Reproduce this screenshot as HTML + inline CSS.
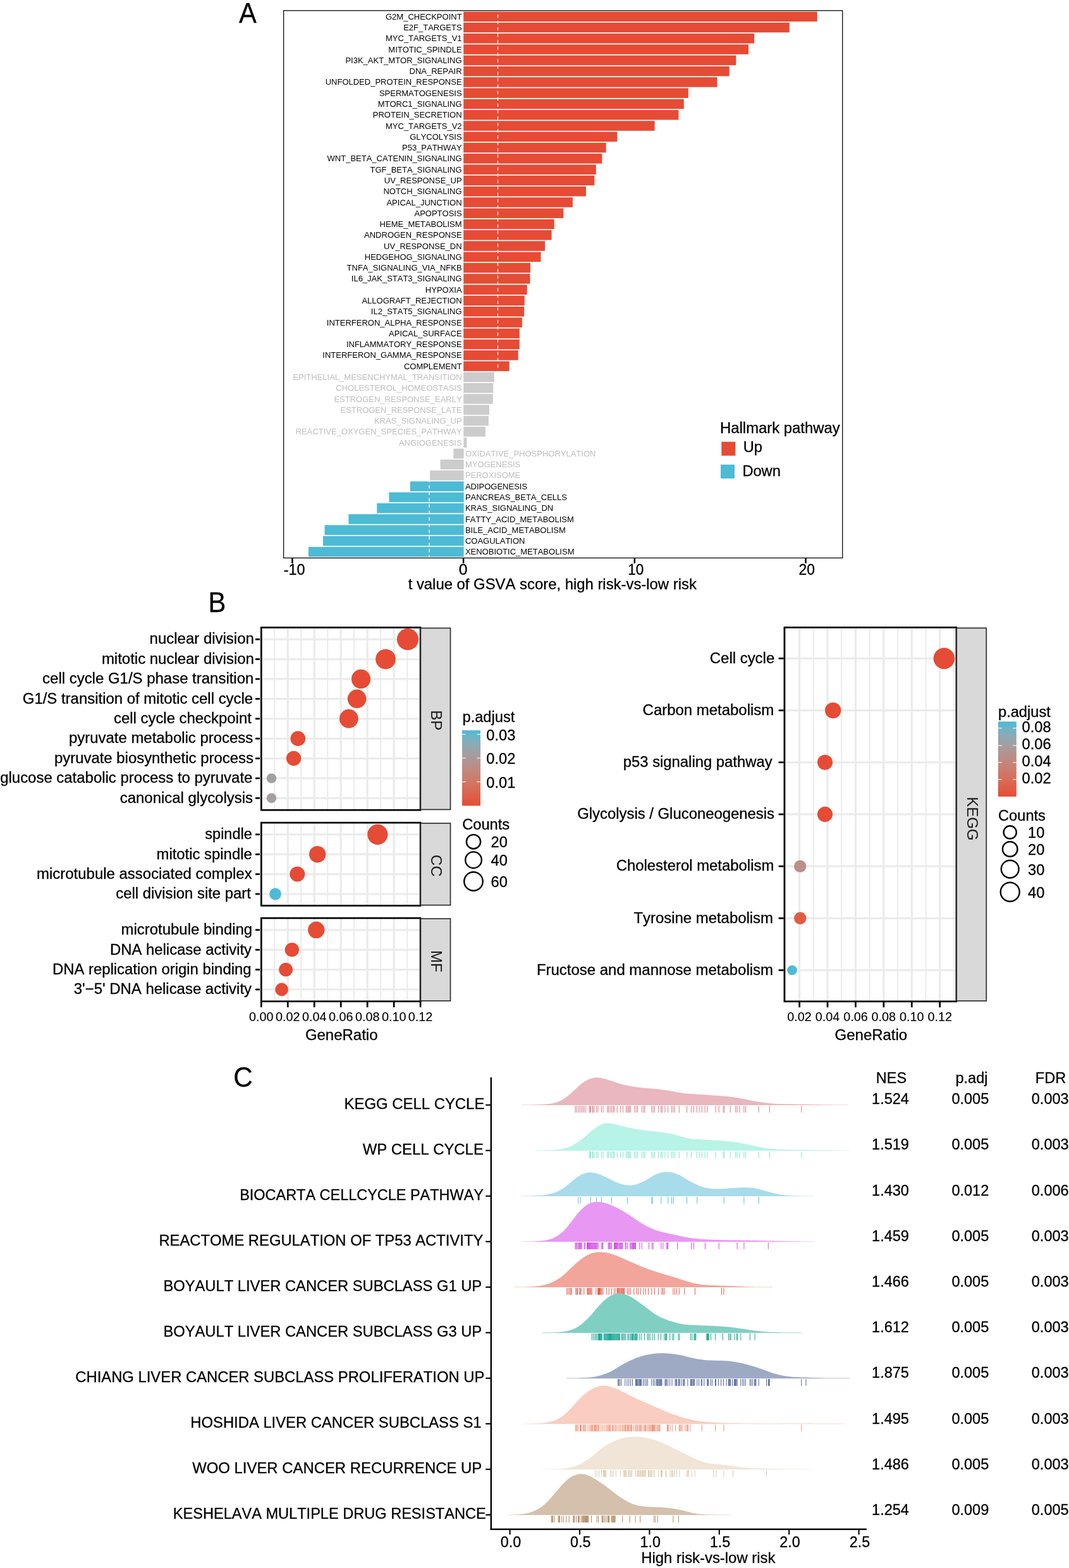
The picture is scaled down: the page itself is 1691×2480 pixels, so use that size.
<!DOCTYPE html>
<html lang="en"><head><meta charset="utf-8"><title>Figure: GSVA, GO/KEGG enrichment and GSEA ridge plot</title>
<style>
html,body{margin:0;padding:0;background:#fff}
svg{display:block;font-family:"Liberation Sans",Arial,Helvetica,sans-serif;font-kerning:none}
text{stroke:#000;stroke-width:0.3;paint-order:stroke}
text[fill],.s text{stroke:none}
.t{stroke-width:0.12px}
</style></head><body>
<svg width="1691" height="2480" viewBox="0 0 1691 2480">
<rect width="1691" height="2480" fill="#fff"/>
<text x="377.92" y="36.3" font-size="44.3" textLength="27.86" lengthAdjust="spacingAndGlyphs">A</text>
<text x="329.58" y="968.4" font-size="44.6" textLength="27.82" lengthAdjust="spacingAndGlyphs">B</text>
<text x="369.35" y="1718.6" font-size="45" textLength="30.56" lengthAdjust="spacingAndGlyphs">C</text>
<g id="panelA">
<g>
<rect x="733.2" y="18.45" width="559.5" height="15.6" fill="#E64B35"/>
<rect x="733.2" y="35.73" width="515.6" height="15.6" fill="#E64B35"/>
<rect x="733.2" y="53.01" width="459.9" height="15.6" fill="#E64B35"/>
<rect x="733.2" y="70.28" width="450.8" height="15.6" fill="#E64B35"/>
<rect x="733.2" y="87.56" width="431.1" height="15.6" fill="#E64B35"/>
<rect x="733.2" y="104.84" width="420.5" height="15.6" fill="#E64B35"/>
<rect x="733.2" y="122.12" width="401.3" height="15.6" fill="#E64B35"/>
<rect x="733.2" y="139.4" width="355.6" height="15.6" fill="#E64B35"/>
<rect x="733.2" y="156.67" width="348.6" height="15.6" fill="#E64B35"/>
<rect x="733.2" y="173.95" width="340.2" height="15.6" fill="#E64B35"/>
<rect x="733.2" y="191.23" width="302.4" height="15.6" fill="#E64B35"/>
<rect x="733.2" y="208.51" width="243.1" height="15.6" fill="#E64B35"/>
<rect x="733.2" y="225.79" width="225.5" height="15.6" fill="#E64B35"/>
<rect x="733.2" y="243.06" width="219.2" height="15.6" fill="#E64B35"/>
<rect x="733.2" y="260.34" width="209.6" height="15.6" fill="#E64B35"/>
<rect x="733.2" y="277.62" width="207.1" height="15.6" fill="#E64B35"/>
<rect x="733.2" y="294.9" width="193.7" height="15.6" fill="#E64B35"/>
<rect x="733.2" y="312.18" width="172.7" height="15.6" fill="#E64B35"/>
<rect x="733.2" y="329.45" width="158.1" height="15.6" fill="#E64B35"/>
<rect x="733.2" y="346.73" width="143.5" height="15.6" fill="#E64B35"/>
<rect x="733.2" y="364.01" width="139.4" height="15.6" fill="#E64B35"/>
<rect x="733.2" y="381.29" width="128.8" height="15.6" fill="#E64B35"/>
<rect x="733.2" y="398.57" width="122.3" height="15.6" fill="#E64B35"/>
<rect x="733.2" y="415.84" width="105.7" height="15.6" fill="#E64B35"/>
<rect x="733.2" y="433.12" width="105.2" height="15.6" fill="#E64B35"/>
<rect x="733.2" y="450.4" width="100.5" height="15.6" fill="#E64B35"/>
<rect x="733.2" y="467.68" width="96.5" height="15.6" fill="#E64B35"/>
<rect x="733.2" y="484.96" width="95.9" height="15.6" fill="#E64B35"/>
<rect x="733.2" y="502.23" width="92.7" height="15.6" fill="#E64B35"/>
<rect x="733.2" y="519.51" width="88.6" height="15.6" fill="#E64B35"/>
<rect x="733.2" y="536.79" width="88.6" height="15.6" fill="#E64B35"/>
<rect x="733.2" y="554.07" width="86.4" height="15.6" fill="#E64B35"/>
<rect x="733.2" y="571.35" width="72.5" height="15.6" fill="#E64B35"/>
<rect x="733.2" y="588.62" width="48.5" height="15.6" fill="#CCCCCC"/>
<rect x="733.2" y="605.9" width="47" height="15.6" fill="#CCCCCC"/>
<rect x="733.2" y="623.18" width="46.5" height="15.6" fill="#CCCCCC"/>
<rect x="733.2" y="640.46" width="40.7" height="15.6" fill="#CCCCCC"/>
<rect x="733.2" y="657.74" width="39.7" height="15.6" fill="#CCCCCC"/>
<rect x="733.2" y="675.01" width="34.6" height="15.6" fill="#CCCCCC"/>
<rect x="733.2" y="692.29" width="5.2" height="15.6" fill="#CCCCCC"/>
<rect x="717.3" y="709.57" width="16.3" height="15.6" fill="#CCCCCC"/>
<rect x="696.5" y="726.85" width="37.1" height="15.6" fill="#CCCCCC"/>
<rect x="680.1" y="744.13" width="53.5" height="15.6" fill="#CCCCCC"/>
<rect x="648.8" y="761.4" width="84.8" height="15.6" fill="#4DBBD5"/>
<rect x="615.4" y="778.68" width="118.2" height="15.6" fill="#4DBBD5"/>
<rect x="596.2" y="795.96" width="137.4" height="15.6" fill="#4DBBD5"/>
<rect x="551.4" y="813.24" width="182.2" height="15.6" fill="#4DBBD5"/>
<rect x="513.5" y="830.52" width="220.1" height="15.6" fill="#4DBBD5"/>
<rect x="511" y="847.79" width="222.6" height="15.6" fill="#4DBBD5"/>
<rect x="488" y="865.07" width="245.6" height="15.6" fill="#4DBBD5"/>
</g>
<line x1="787.45" y1="22.9" x2="787.45" y2="882.5" stroke="#fff" stroke-width="1.3" stroke-dasharray="5.3 4.763"/>
<line x1="679" y1="22.9" x2="679" y2="882.5" stroke="#fff" stroke-width="1.3" stroke-dasharray="5.3 4.763"/>
<g font-size="13.1" class="s">
<text x="730.6" y="30.8" text-anchor="end" textLength="120.59" lengthAdjust="spacingAndGlyphs">G2M_CHECKPOINT</text>
<text x="730.6" y="48.08" text-anchor="end" textLength="92.43" lengthAdjust="spacingAndGlyphs">E2F_TARGETS</text>
<text x="730.6" y="65.36" text-anchor="end" textLength="120.6" lengthAdjust="spacingAndGlyphs">MYC_TARGETS_V1</text>
<text x="730.6" y="82.63" text-anchor="end" textLength="116.25" lengthAdjust="spacingAndGlyphs">MITOTIC_SPINDLE</text>
<text x="730.6" y="99.91" text-anchor="end" textLength="184.15" lengthAdjust="spacingAndGlyphs">PI3K_AKT_MTOR_SIGNALING</text>
<text x="730.6" y="117.19" text-anchor="end" textLength="83.05" lengthAdjust="spacingAndGlyphs">DNA_REPAIR</text>
<text x="730.6" y="134.47" text-anchor="end" textLength="215.91" lengthAdjust="spacingAndGlyphs">UNFOLDED_PROTEIN_RESPONSE</text>
<text x="730.6" y="151.75" text-anchor="end" textLength="130.7" lengthAdjust="spacingAndGlyphs">SPERMATOGENESIS</text>
<text x="730.6" y="169.02" text-anchor="end" textLength="132.86" lengthAdjust="spacingAndGlyphs">MTORC1_SIGNALING</text>
<text x="730.6" y="186.3" text-anchor="end" textLength="140.8" lengthAdjust="spacingAndGlyphs">PROTEIN_SECRETION</text>
<text x="730.6" y="203.58" text-anchor="end" textLength="120.6" lengthAdjust="spacingAndGlyphs">MYC_TARGETS_V2</text>
<text x="730.6" y="220.86" text-anchor="end" textLength="82.34" lengthAdjust="spacingAndGlyphs">GLYCOLYSIS</text>
<text x="730.6" y="238.14" text-anchor="end" textLength="94.61" lengthAdjust="spacingAndGlyphs">P53_PATHWAY</text>
<text x="730.6" y="255.41" text-anchor="end" textLength="213.02" lengthAdjust="spacingAndGlyphs">WNT_BETA_CATENIN_SIGNALING</text>
<text x="730.6" y="272.69" text-anchor="end" textLength="145.15" lengthAdjust="spacingAndGlyphs">TGF_BETA_SIGNALING</text>
<text x="730.6" y="289.97" text-anchor="end" textLength="122.78" lengthAdjust="spacingAndGlyphs">UV_RESPONSE_UP</text>
<text x="730.6" y="307.25" text-anchor="end" textLength="124.2" lengthAdjust="spacingAndGlyphs">NOTCH_SIGNALING</text>
<text x="730.6" y="324.53" text-anchor="end" textLength="119.15" lengthAdjust="spacingAndGlyphs">APICAL_JUNCTION</text>
<text x="730.6" y="341.8" text-anchor="end" textLength="75.1" lengthAdjust="spacingAndGlyphs">APOPTOSIS</text>
<text x="730.6" y="359.08" text-anchor="end" textLength="129.98" lengthAdjust="spacingAndGlyphs">HEME_METABOLISM</text>
<text x="730.6" y="376.36" text-anchor="end" textLength="154.53" lengthAdjust="spacingAndGlyphs">ANDROGEN_RESPONSE</text>
<text x="730.6" y="393.64" text-anchor="end" textLength="123.49" lengthAdjust="spacingAndGlyphs">UV_RESPONSE_DN</text>
<text x="730.6" y="410.92" text-anchor="end" textLength="153.81" lengthAdjust="spacingAndGlyphs">HEDGEHOG_SIGNALING</text>
<text x="730.6" y="428.19" text-anchor="end" textLength="181.98" lengthAdjust="spacingAndGlyphs">TNFA_SIGNALING_VIA_NFKB</text>
<text x="730.6" y="445.47" text-anchor="end" textLength="174.79" lengthAdjust="spacingAndGlyphs">IL6_JAK_STAT3_SIGNALING</text>
<text x="730.6" y="462.75" text-anchor="end" textLength="57.77" lengthAdjust="spacingAndGlyphs">HYPOXIA</text>
<text x="730.6" y="480.03" text-anchor="end" textLength="158.14" lengthAdjust="spacingAndGlyphs">ALLOGRAFT_REJECTION</text>
<text x="730.6" y="497.31" text-anchor="end" textLength="143.73" lengthAdjust="spacingAndGlyphs">IL2_STAT5_SIGNALING</text>
<text x="730.6" y="514.58" text-anchor="end" textLength="213.75" lengthAdjust="spacingAndGlyphs">INTERFERON_ALPHA_RESPONSE</text>
<text x="730.6" y="531.86" text-anchor="end" textLength="115.55" lengthAdjust="spacingAndGlyphs">APICAL_SURFACE</text>
<text x="730.6" y="549.14" text-anchor="end" textLength="182.69" lengthAdjust="spacingAndGlyphs">INFLAMMATORY_RESPONSE</text>
<text x="730.6" y="566.42" text-anchor="end" textLength="220.23" lengthAdjust="spacingAndGlyphs">INTERFERON_GAMMA_RESPONSE</text>
<text x="730.6" y="583.7" text-anchor="end" textLength="91.7" lengthAdjust="spacingAndGlyphs">COMPLEMENT</text>
<text x="730.6" y="600.97" text-anchor="end" fill="#BEBEBE" textLength="267.19" lengthAdjust="spacingAndGlyphs">EPITHELIAL_MESENCHYMAL_TRANSITION</text>
<text x="730.6" y="618.25" text-anchor="end" fill="#BEBEBE" textLength="199.31" lengthAdjust="spacingAndGlyphs">CHOLESTEROL_HOMEOSTASIS</text>
<text x="730.6" y="635.53" text-anchor="end" fill="#BEBEBE" textLength="202.21" lengthAdjust="spacingAndGlyphs">ESTROGEN_RESPONSE_EARLY</text>
<text x="730.6" y="652.81" text-anchor="end" fill="#BEBEBE" textLength="192.1" lengthAdjust="spacingAndGlyphs">ESTROGEN_RESPONSE_LATE</text>
<text x="730.6" y="670.09" text-anchor="end" fill="#BEBEBE" textLength="138.66" lengthAdjust="spacingAndGlyphs">KRAS_SIGNALING_UP</text>
<text x="730.6" y="687.36" text-anchor="end" fill="#BEBEBE" textLength="262.87" lengthAdjust="spacingAndGlyphs">REACTIVE_OXYGEN_SPECIES_PATHWAY</text>
<text x="730.6" y="704.64" text-anchor="end" fill="#BEBEBE" textLength="99.65" lengthAdjust="spacingAndGlyphs">ANGIOGENESIS</text>
<text x="735.9" y="721.92" fill="#BEBEBE" textLength="206.53" lengthAdjust="spacingAndGlyphs">OXIDATIVE_PHOSPHORYLATION</text>
<text x="735.9" y="739.2" fill="#BEBEBE" textLength="87.37" lengthAdjust="spacingAndGlyphs">MYOGENESIS</text>
<text x="735.9" y="756.48" fill="#BEBEBE" textLength="87.37" lengthAdjust="spacingAndGlyphs">PEROXISOME</text>
<text x="735.9" y="773.75" textLength="98.21" lengthAdjust="spacingAndGlyphs">ADIPOGENESIS</text>
<text x="735.9" y="791.03" textLength="161.06" lengthAdjust="spacingAndGlyphs">PANCREAS_BETA_CELLS</text>
<text x="735.9" y="808.31" textLength="139.38" lengthAdjust="spacingAndGlyphs">KRAS_SIGNALING_DN</text>
<text x="735.9" y="825.59" textLength="171.86" lengthAdjust="spacingAndGlyphs">FATTY_ACID_METABOLISM</text>
<text x="735.9" y="842.87" textLength="158.88" lengthAdjust="spacingAndGlyphs">BILE_ACID_METABOLISM</text>
<text x="735.9" y="860.14" textLength="94.59" lengthAdjust="spacingAndGlyphs">COAGULATION</text>
<text x="735.9" y="877.42" textLength="172.58" lengthAdjust="spacingAndGlyphs">XENOBIOTIC_METABOLISM</text>
</g>
<rect x="448.6" y="16.75" width="884.1" height="865.75" fill="none" stroke="#000" stroke-width="1.25"/>
<line x1="462.4" y1="882.5" x2="462.4" y2="890.9" stroke="#000" stroke-width="2.5"/>
<text x="448.66" y="909.1" font-size="24.5" textLength="33.75" lengthAdjust="spacingAndGlyphs">-10</text>
<line x1="733.1" y1="882.5" x2="733.1" y2="890.9" stroke="#000" stroke-width="2.5"/>
<text x="725.84" y="909.1" font-size="24.5" textLength="13.73" lengthAdjust="spacingAndGlyphs">0</text>
<line x1="1003.8" y1="882.5" x2="1003.8" y2="890.9" stroke="#000" stroke-width="2.5"/>
<text x="993.29" y="909.1" font-size="24.5" textLength="24.99" lengthAdjust="spacingAndGlyphs">10</text>
<line x1="1274.5" y1="882.5" x2="1274.5" y2="890.9" stroke="#000" stroke-width="2.5"/>
<text x="1263.45" y="909.1" font-size="24.5" textLength="25.44" lengthAdjust="spacingAndGlyphs">20</text>
<text x="645.64" y="932.3" font-size="24" textLength="456.23" lengthAdjust="spacingAndGlyphs">t value of GSVA score, high risk-vs-low risk</text>
<text x="1139.04" y="685.1" font-size="23.3" textLength="189.6" lengthAdjust="spacingAndGlyphs">Hallmark pathway</text>
<rect x="1141.3" y="698.7" width="22" height="22" fill="#E64B35"/>
<rect x="1140" y="734.8" width="22" height="22" fill="#4DBBD5"/>
<text x="1175.8" y="715.4" font-size="23.3" textLength="30.23" lengthAdjust="spacingAndGlyphs">Up</text>
<text x="1174.4" y="752.6" font-size="23.3" textLength="60.46" lengthAdjust="spacingAndGlyphs">Down</text>
</g>
<g id="panelB">
<g stroke="#EBEBEB">
<line x1="434.28" y1="992.5" x2="434.28" y2="1281.2" stroke-width="2"/>
<line x1="476.25" y1="992.5" x2="476.25" y2="1281.2" stroke-width="2"/>
<line x1="518.22" y1="992.5" x2="518.22" y2="1281.2" stroke-width="2"/>
<line x1="560.18" y1="992.5" x2="560.18" y2="1281.2" stroke-width="2"/>
<line x1="602.15" y1="992.5" x2="602.15" y2="1281.2" stroke-width="2"/>
<line x1="644.11" y1="992.5" x2="644.11" y2="1281.2" stroke-width="2"/>
<line x1="455.27" y1="992.5" x2="455.27" y2="1281.2" stroke-width="3.2"/>
<line x1="497.23" y1="992.5" x2="497.23" y2="1281.2" stroke-width="3.2"/>
<line x1="539.2" y1="992.5" x2="539.2" y2="1281.2" stroke-width="3.2"/>
<line x1="581.16" y1="992.5" x2="581.16" y2="1281.2" stroke-width="3.2"/>
<line x1="623.13" y1="992.5" x2="623.13" y2="1281.2" stroke-width="3.2"/>
<line x1="413.3" y1="1011.15" x2="665.1" y2="1011.15" stroke-width="3.2"/>
<line x1="413.3" y1="1042.55" x2="665.1" y2="1042.55" stroke-width="3.2"/>
<line x1="413.3" y1="1073.95" x2="665.1" y2="1073.95" stroke-width="3.2"/>
<line x1="413.3" y1="1105.35" x2="665.1" y2="1105.35" stroke-width="3.2"/>
<line x1="413.3" y1="1136.75" x2="665.1" y2="1136.75" stroke-width="3.2"/>
<line x1="413.3" y1="1168.15" x2="665.1" y2="1168.15" stroke-width="3.2"/>
<line x1="413.3" y1="1199.55" x2="665.1" y2="1199.55" stroke-width="3.2"/>
<line x1="413.3" y1="1230.95" x2="665.1" y2="1230.95" stroke-width="3.2"/>
<line x1="413.3" y1="1262.35" x2="665.1" y2="1262.35" stroke-width="3.2"/>
</g>
<circle cx="645" cy="1011.15" r="17.1" fill="#E64B35"/>
<circle cx="610" cy="1042.55" r="15.9" fill="#E64B35"/>
<circle cx="571" cy="1073.95" r="15.1" fill="#E64B35"/>
<circle cx="564.6" cy="1105.35" r="14.8" fill="#E64B35"/>
<circle cx="551.8" cy="1136.75" r="14.9" fill="#E64B35"/>
<circle cx="471.3" cy="1168.15" r="11.8" fill="#E64B35"/>
<circle cx="464.6" cy="1199.55" r="11.7" fill="#E64B35"/>
<circle cx="429.5" cy="1230.95" r="7.8" fill="#A59EA2"/>
<circle cx="429.5" cy="1262.35" r="7.8" fill="#A59EA2"/>
<rect x="413.3" y="992.5" width="251.8" height="288.7" fill="none" stroke="#000" stroke-width="2.7"/>
<rect x="665.4" y="993.45" width="47.1" height="286.95" fill="#D9D9D9" stroke="#333333" stroke-width="1.75"/>
<text transform="translate(689.3 1139.25) rotate(90)" font-size="24.5" text-anchor="middle" fill="#1A1A1A" y="7.5" textLength="32.03" lengthAdjust="spacingAndGlyphs">BP</text>
<line x1="404" y1="1011.15" x2="411" y2="1011.15" stroke="#000" stroke-width="2.7"/>
<text x="236.61" y="1018.45" font-size="23.5" textLength="165.25" lengthAdjust="spacingAndGlyphs">nuclear division</text>
<line x1="404" y1="1042.55" x2="411" y2="1042.55" stroke="#000" stroke-width="2.7"/>
<text x="160.91" y="1049.85" font-size="23.5" textLength="240.95" lengthAdjust="spacingAndGlyphs">mitotic nuclear division</text>
<line x1="404" y1="1073.95" x2="411" y2="1073.95" stroke="#000" stroke-width="2.7"/>
<text x="67.08" y="1081.25" font-size="23.5" textLength="334.27" lengthAdjust="spacingAndGlyphs">cell cycle G1/S phase transition</text>
<line x1="404" y1="1105.35" x2="411" y2="1105.35" stroke="#000" stroke-width="2.7"/>
<text x="35.8" y="1112.65" font-size="23.5" textLength="364.37" lengthAdjust="spacingAndGlyphs">G1/S transition of mitotic cell cycle</text>
<line x1="404" y1="1136.75" x2="411" y2="1136.75" stroke="#000" stroke-width="2.7"/>
<text x="179.98" y="1144.05" font-size="23.5" textLength="217.89" lengthAdjust="spacingAndGlyphs">cell cycle checkpoint</text>
<line x1="404" y1="1168.15" x2="411" y2="1168.15" stroke="#000" stroke-width="2.7"/>
<text x="108.96" y="1175.45" font-size="23.5" textLength="291.31" lengthAdjust="spacingAndGlyphs">pyruvate metabolic process</text>
<line x1="404" y1="1199.55" x2="411" y2="1199.55" stroke="#000" stroke-width="2.7"/>
<text x="85.96" y="1206.85" font-size="23.5" textLength="314.9" lengthAdjust="spacingAndGlyphs">pyruvate biosynthetic process</text>
<line x1="404" y1="1230.95" x2="411" y2="1230.95" stroke="#000" stroke-width="2.7"/>
<text x="0.19" y="1238.25" font-size="23.5" textLength="399.17" lengthAdjust="spacingAndGlyphs">glucose catabolic process to pyruvate</text>
<line x1="404" y1="1262.35" x2="411" y2="1262.35" stroke="#000" stroke-width="2.7"/>
<text x="189.78" y="1269.65" font-size="23.5" textLength="210.18" lengthAdjust="spacingAndGlyphs">canonical glycolysis</text>
<g stroke="#EBEBEB">
<line x1="434.28" y1="1301.2" x2="434.28" y2="1432.4" stroke-width="2"/>
<line x1="476.25" y1="1301.2" x2="476.25" y2="1432.4" stroke-width="2"/>
<line x1="518.22" y1="1301.2" x2="518.22" y2="1432.4" stroke-width="2"/>
<line x1="560.18" y1="1301.2" x2="560.18" y2="1432.4" stroke-width="2"/>
<line x1="602.15" y1="1301.2" x2="602.15" y2="1432.4" stroke-width="2"/>
<line x1="644.11" y1="1301.2" x2="644.11" y2="1432.4" stroke-width="2"/>
<line x1="455.27" y1="1301.2" x2="455.27" y2="1432.4" stroke-width="3.2"/>
<line x1="497.23" y1="1301.2" x2="497.23" y2="1432.4" stroke-width="3.2"/>
<line x1="539.2" y1="1301.2" x2="539.2" y2="1432.4" stroke-width="3.2"/>
<line x1="581.16" y1="1301.2" x2="581.16" y2="1432.4" stroke-width="3.2"/>
<line x1="623.13" y1="1301.2" x2="623.13" y2="1432.4" stroke-width="3.2"/>
<line x1="413.3" y1="1319.8" x2="665.1" y2="1319.8" stroke-width="3.2"/>
<line x1="413.3" y1="1351.2" x2="665.1" y2="1351.2" stroke-width="3.2"/>
<line x1="413.3" y1="1382.6" x2="665.1" y2="1382.6" stroke-width="3.2"/>
<line x1="413.3" y1="1414" x2="665.1" y2="1414" stroke-width="3.2"/>
</g>
<circle cx="597.3" cy="1319.8" r="16.1" fill="#E64B35"/>
<circle cx="502.2" cy="1351.2" r="13.2" fill="#E64B35"/>
<circle cx="470.3" cy="1382.6" r="12" fill="#E64B35"/>
<circle cx="435.5" cy="1414" r="9.4" fill="#4DBBD5"/>
<rect x="413.3" y="1301.2" width="251.8" height="131.2" fill="none" stroke="#000" stroke-width="2.7"/>
<rect x="665.4" y="1302.15" width="47.1" height="129.45" fill="#D9D9D9" stroke="#333333" stroke-width="1.75"/>
<text transform="translate(689.3 1369.2) rotate(90)" font-size="24.5" text-anchor="middle" fill="#1A1A1A" y="7.5" textLength="34.68" lengthAdjust="spacingAndGlyphs">CC</text>
<line x1="404" y1="1319.8" x2="411" y2="1319.8" stroke="#000" stroke-width="2.7"/>
<text x="324.35" y="1327.1" font-size="23.5" textLength="74.4" lengthAdjust="spacingAndGlyphs">spindle</text>
<line x1="404" y1="1351.2" x2="411" y2="1351.2" stroke="#000" stroke-width="2.7"/>
<text x="247.51" y="1358.5" font-size="23.5" textLength="151.25" lengthAdjust="spacingAndGlyphs">mitotic spindle</text>
<line x1="404" y1="1382.6" x2="411" y2="1382.6" stroke="#000" stroke-width="2.7"/>
<text x="58.11" y="1389.9" font-size="23.5" textLength="340.55" lengthAdjust="spacingAndGlyphs">microtubule associated complex</text>
<line x1="404" y1="1414" x2="411" y2="1414" stroke="#000" stroke-width="2.7"/>
<text x="183.39" y="1421.3" font-size="23.5" textLength="213.49" lengthAdjust="spacingAndGlyphs">cell division site part</text>
<g stroke="#EBEBEB">
<line x1="434.28" y1="1452.1" x2="434.28" y2="1583.8" stroke-width="2"/>
<line x1="476.25" y1="1452.1" x2="476.25" y2="1583.8" stroke-width="2"/>
<line x1="518.22" y1="1452.1" x2="518.22" y2="1583.8" stroke-width="2"/>
<line x1="560.18" y1="1452.1" x2="560.18" y2="1583.8" stroke-width="2"/>
<line x1="602.15" y1="1452.1" x2="602.15" y2="1583.8" stroke-width="2"/>
<line x1="644.11" y1="1452.1" x2="644.11" y2="1583.8" stroke-width="2"/>
<line x1="455.27" y1="1452.1" x2="455.27" y2="1583.8" stroke-width="3.2"/>
<line x1="497.23" y1="1452.1" x2="497.23" y2="1583.8" stroke-width="3.2"/>
<line x1="539.2" y1="1452.1" x2="539.2" y2="1583.8" stroke-width="3.2"/>
<line x1="581.16" y1="1452.1" x2="581.16" y2="1583.8" stroke-width="3.2"/>
<line x1="623.13" y1="1452.1" x2="623.13" y2="1583.8" stroke-width="3.2"/>
<line x1="413.3" y1="1470.8" x2="665.1" y2="1470.8" stroke-width="3.2"/>
<line x1="413.3" y1="1502.2" x2="665.1" y2="1502.2" stroke-width="3.2"/>
<line x1="413.3" y1="1533.6" x2="665.1" y2="1533.6" stroke-width="3.2"/>
<line x1="413.3" y1="1565" x2="665.1" y2="1565" stroke-width="3.2"/>
</g>
<circle cx="500.3" cy="1470.8" r="13.2" fill="#E64B35"/>
<circle cx="461.8" cy="1502.2" r="11.2" fill="#E64B35"/>
<circle cx="452.1" cy="1533.6" r="10.9" fill="#E64B35"/>
<circle cx="445.6" cy="1565" r="10.4" fill="#E64B35"/>
<rect x="413.3" y="1452.1" width="251.8" height="131.7" fill="none" stroke="#000" stroke-width="2.7"/>
<rect x="665.4" y="1453.05" width="47.1" height="129.95" fill="#D9D9D9" stroke="#333333" stroke-width="1.75"/>
<text transform="translate(689.3 1520.35) rotate(90)" font-size="24.5" text-anchor="middle" fill="#1A1A1A" y="7.5" textLength="34.67" lengthAdjust="spacingAndGlyphs">MF</text>
<line x1="404" y1="1470.8" x2="411" y2="1470.8" stroke="#000" stroke-width="2.7"/>
<text x="191.61" y="1478.1" font-size="23.5" textLength="207.53" lengthAdjust="spacingAndGlyphs">microtubule binding</text>
<line x1="404" y1="1502.2" x2="411" y2="1502.2" stroke="#000" stroke-width="2.7"/>
<text x="174.04" y="1509.5" font-size="23.5" textLength="224" lengthAdjust="spacingAndGlyphs">DNA helicase activity</text>
<line x1="404" y1="1533.6" x2="411" y2="1533.6" stroke="#000" stroke-width="2.7"/>
<text x="82.94" y="1540.9" font-size="23.5" textLength="314.6" lengthAdjust="spacingAndGlyphs">DNA replication origin binding</text>
<line x1="404" y1="1565" x2="411" y2="1565" stroke="#000" stroke-width="2.7"/>
<text x="116.79" y="1572.3" font-size="23.5" textLength="281.26" lengthAdjust="spacingAndGlyphs">3'−5' DNA helicase activity</text>
<line x1="413.3" y1="1583.8" x2="413.3" y2="1593.2" stroke="#000" stroke-width="2.7"/>
<text x="413.3" y="1614.8" font-size="20.4" text-anchor="middle" textLength="38.51" lengthAdjust="spacingAndGlyphs" class="t">0.00</text>
<line x1="455.27" y1="1583.8" x2="455.27" y2="1593.2" stroke="#000" stroke-width="2.7"/>
<text x="455.27" y="1614.8" font-size="20.4" text-anchor="middle" textLength="38.51" lengthAdjust="spacingAndGlyphs" class="t">0.02</text>
<line x1="497.23" y1="1583.8" x2="497.23" y2="1593.2" stroke="#000" stroke-width="2.7"/>
<text x="497.23" y="1614.8" font-size="20.4" text-anchor="middle" textLength="38.51" lengthAdjust="spacingAndGlyphs" class="t">0.04</text>
<line x1="539.2" y1="1583.8" x2="539.2" y2="1593.2" stroke="#000" stroke-width="2.7"/>
<text x="539.2" y="1614.8" font-size="20.4" text-anchor="middle" textLength="38.51" lengthAdjust="spacingAndGlyphs" class="t">0.06</text>
<line x1="581.16" y1="1583.8" x2="581.16" y2="1593.2" stroke="#000" stroke-width="2.7"/>
<text x="581.16" y="1614.8" font-size="20.4" text-anchor="middle" textLength="38.51" lengthAdjust="spacingAndGlyphs" class="t">0.08</text>
<line x1="623.13" y1="1583.8" x2="623.13" y2="1593.2" stroke="#000" stroke-width="2.7"/>
<text x="623.13" y="1614.8" font-size="20.4" text-anchor="middle" textLength="38.51" lengthAdjust="spacingAndGlyphs" class="t">0.10</text>
<line x1="665.1" y1="1583.8" x2="665.1" y2="1593.2" stroke="#000" stroke-width="2.7"/>
<text x="665.1" y="1614.8" font-size="20.4" text-anchor="middle" textLength="38.51" lengthAdjust="spacingAndGlyphs" class="t">0.12</text>
<text x="540.2" y="1644.8" font-size="23.5" text-anchor="middle" textLength="114.59" lengthAdjust="spacingAndGlyphs">GeneRatio</text>
<defs><linearGradient id="pg" x1="0" y1="0" x2="0" y2="1"><stop offset="0" stop-color="#4DBBD5"/><stop offset="0.1" stop-color="#74B2C4"/><stop offset="0.2" stop-color="#8EA9B4"/><stop offset="0.3" stop-color="#A19FA3"/><stop offset="0.4" stop-color="#B09593"/><stop offset="0.5" stop-color="#BD8B83"/><stop offset="0.6" stop-color="#C88173"/><stop offset="0.7" stop-color="#D17564"/><stop offset="0.8" stop-color="#D96954"/><stop offset="0.9" stop-color="#E05B45"/><stop offset="1" stop-color="#E64B35"/></linearGradient></defs>
<text x="731.5" y="1142.1" font-size="23.3" textLength="82.83" lengthAdjust="spacingAndGlyphs">p.adjust</text>
<rect x="731" y="1155.1" width="29" height="119.3" fill="url(#pg)"/>
<line x1="731" y1="1161.5" x2="736.8" y2="1161.5" stroke="#fff" stroke-width="1.1"/>
<line x1="754.2" y1="1161.5" x2="760" y2="1161.5" stroke="#fff" stroke-width="1.1"/>
<text x="769.3" y="1170.5" font-size="23.3" textLength="46.03" lengthAdjust="spacingAndGlyphs">0.03</text>
<line x1="731" y1="1199" x2="736.8" y2="1199" stroke="#fff" stroke-width="1.1"/>
<line x1="754.2" y1="1199" x2="760" y2="1199" stroke="#fff" stroke-width="1.1"/>
<text x="769.3" y="1208" font-size="23.3" textLength="46.03" lengthAdjust="spacingAndGlyphs">0.02</text>
<line x1="731" y1="1236.6" x2="736.8" y2="1236.6" stroke="#fff" stroke-width="1.1"/>
<line x1="754.2" y1="1236.6" x2="760" y2="1236.6" stroke="#fff" stroke-width="1.1"/>
<text x="769.3" y="1245.6" font-size="23.3" textLength="46.03" lengthAdjust="spacingAndGlyphs">0.01</text>
<text x="731.2" y="1312.3" font-size="23.3" textLength="74.93" lengthAdjust="spacingAndGlyphs">Counts</text>
<circle cx="749" cy="1331.3" r="11.15" fill="none" stroke="#000" stroke-width="2.4"/>
<text x="776.6" y="1340.3" font-size="23.3" textLength="26.31" lengthAdjust="spacingAndGlyphs">20</text>
<circle cx="749" cy="1360.2" r="12.8" fill="none" stroke="#000" stroke-width="2.4"/>
<text x="776.6" y="1369.2" font-size="23.3" textLength="26.31" lengthAdjust="spacingAndGlyphs">40</text>
<circle cx="749" cy="1394" r="14.8" fill="none" stroke="#000" stroke-width="2.4"/>
<text x="776.6" y="1403" font-size="23.3" textLength="26.31" lengthAdjust="spacingAndGlyphs">60</text>
<g stroke="#EBEBEB">
<line x1="1242.39" y1="992.4" x2="1242.39" y2="1583.9" stroke-width="2"/>
<line x1="1286.81" y1="992.4" x2="1286.81" y2="1583.9" stroke-width="2"/>
<line x1="1331.23" y1="992.4" x2="1331.23" y2="1583.9" stroke-width="2"/>
<line x1="1375.65" y1="992.4" x2="1375.65" y2="1583.9" stroke-width="2"/>
<line x1="1420.07" y1="992.4" x2="1420.07" y2="1583.9" stroke-width="2"/>
<line x1="1464.49" y1="992.4" x2="1464.49" y2="1583.9" stroke-width="2"/>
<line x1="1508.91" y1="992.4" x2="1508.91" y2="1583.9" stroke-width="2"/>
<line x1="1264.6" y1="992.4" x2="1264.6" y2="1583.9" stroke-width="3.2"/>
<line x1="1309.02" y1="992.4" x2="1309.02" y2="1583.9" stroke-width="3.2"/>
<line x1="1353.44" y1="992.4" x2="1353.44" y2="1583.9" stroke-width="3.2"/>
<line x1="1397.86" y1="992.4" x2="1397.86" y2="1583.9" stroke-width="3.2"/>
<line x1="1442.28" y1="992.4" x2="1442.28" y2="1583.9" stroke-width="3.2"/>
<line x1="1486.7" y1="992.4" x2="1486.7" y2="1583.9" stroke-width="3.2"/>
<line x1="1240.9" y1="1041.4" x2="1512.9" y2="1041.4" stroke-width="3.2"/>
<line x1="1240.9" y1="1123.58" x2="1512.9" y2="1123.58" stroke-width="3.2"/>
<line x1="1240.9" y1="1205.76" x2="1512.9" y2="1205.76" stroke-width="3.2"/>
<line x1="1240.9" y1="1287.94" x2="1512.9" y2="1287.94" stroke-width="3.2"/>
<line x1="1240.9" y1="1370.12" x2="1512.9" y2="1370.12" stroke-width="3.2"/>
<line x1="1240.9" y1="1452.3" x2="1512.9" y2="1452.3" stroke-width="3.2"/>
<line x1="1240.9" y1="1534.48" x2="1512.9" y2="1534.48" stroke-width="3.2"/>
</g>
<circle cx="1493.4" cy="1041.4" r="16.8" fill="#E64B35"/>
<circle cx="1317.7" cy="1123.58" r="12.7" fill="#E64B35"/>
<circle cx="1305" cy="1205.76" r="12.1" fill="#E64B35"/>
<circle cx="1305" cy="1287.94" r="12.1" fill="#E64B35"/>
<circle cx="1265.7" cy="1370.12" r="9.7" fill="#BC8F8A"/>
<circle cx="1265.7" cy="1452.3" r="9.7" fill="#E05C47"/>
<circle cx="1253" cy="1534.48" r="7.8" fill="#4DBBD5"/>
<rect x="1240.9" y="992.4" width="272" height="591.5" fill="none" stroke="#000" stroke-width="2.7"/>
<rect x="1513.2" y="993.35" width="47.05" height="589.75" fill="#D9D9D9" stroke="#333333" stroke-width="1.75"/>
<text transform="translate(1537.08 1294.85) rotate(90)" font-size="24.5" text-anchor="middle" fill="#1A1A1A" y="7.5" textLength="69.38" lengthAdjust="spacingAndGlyphs">KEGG</text>
<line x1="1231.6" y1="1041.4" x2="1239.6" y2="1041.4" stroke="#000" stroke-width="2.7"/>
<text x="1122.78" y="1048.7" font-size="23.5" textLength="102.48" lengthAdjust="spacingAndGlyphs">Cell cycle</text>
<line x1="1231.6" y1="1123.58" x2="1239.6" y2="1123.58" stroke="#000" stroke-width="2.7"/>
<text x="1016.58" y="1130.88" font-size="23.5" textLength="207.7" lengthAdjust="spacingAndGlyphs">Carbon metabolism</text>
<line x1="1231.6" y1="1205.76" x2="1239.6" y2="1205.76" stroke="#000" stroke-width="2.7"/>
<text x="985.76" y="1213.06" font-size="23.5" textLength="235.88" lengthAdjust="spacingAndGlyphs">p53 signaling pathway</text>
<line x1="1231.6" y1="1287.94" x2="1239.6" y2="1287.94" stroke="#000" stroke-width="2.7"/>
<text x="913.2" y="1295.24" font-size="23.5" textLength="311.86" lengthAdjust="spacingAndGlyphs">Glycolysis / Gluconeogenesis</text>
<line x1="1231.6" y1="1370.12" x2="1239.6" y2="1370.12" stroke="#000" stroke-width="2.7"/>
<text x="974.69" y="1377.42" font-size="23.5" textLength="249.59" lengthAdjust="spacingAndGlyphs">Cholesterol metabolism</text>
<line x1="1231.6" y1="1452.3" x2="1239.6" y2="1452.3" stroke="#000" stroke-width="2.7"/>
<text x="1002.46" y="1459.6" font-size="23.5" textLength="220.51" lengthAdjust="spacingAndGlyphs">Tyrosine metabolism</text>
<line x1="1231.6" y1="1534.48" x2="1239.6" y2="1534.48" stroke="#000" stroke-width="2.7"/>
<text x="848.94" y="1541.78" font-size="23.5" textLength="374.04" lengthAdjust="spacingAndGlyphs">Fructose and mannose metabolism</text>
<line x1="1264.6" y1="1583.9" x2="1264.6" y2="1593.3" stroke="#000" stroke-width="2.7"/>
<text x="1264.6" y="1614.8" font-size="20.4" text-anchor="middle" textLength="38.51" lengthAdjust="spacingAndGlyphs" class="t">0.02</text>
<line x1="1309.02" y1="1583.9" x2="1309.02" y2="1593.3" stroke="#000" stroke-width="2.7"/>
<text x="1309.02" y="1614.8" font-size="20.4" text-anchor="middle" textLength="38.51" lengthAdjust="spacingAndGlyphs" class="t">0.04</text>
<line x1="1353.44" y1="1583.9" x2="1353.44" y2="1593.3" stroke="#000" stroke-width="2.7"/>
<text x="1353.44" y="1614.8" font-size="20.4" text-anchor="middle" textLength="38.51" lengthAdjust="spacingAndGlyphs" class="t">0.06</text>
<line x1="1397.86" y1="1583.9" x2="1397.86" y2="1593.3" stroke="#000" stroke-width="2.7"/>
<text x="1397.86" y="1614.8" font-size="20.4" text-anchor="middle" textLength="38.51" lengthAdjust="spacingAndGlyphs" class="t">0.08</text>
<line x1="1442.28" y1="1583.9" x2="1442.28" y2="1593.3" stroke="#000" stroke-width="2.7"/>
<text x="1442.28" y="1614.8" font-size="20.4" text-anchor="middle" textLength="38.51" lengthAdjust="spacingAndGlyphs" class="t">0.10</text>
<line x1="1486.7" y1="1583.9" x2="1486.7" y2="1593.3" stroke="#000" stroke-width="2.7"/>
<text x="1486.7" y="1614.8" font-size="20.4" text-anchor="middle" textLength="38.51" lengthAdjust="spacingAndGlyphs" class="t">0.12</text>
<text x="1377.9" y="1644.8" font-size="23.5" text-anchor="middle" textLength="114.59" lengthAdjust="spacingAndGlyphs">GeneRatio</text>
<text x="1579" y="1134" font-size="23.3" textLength="82.83" lengthAdjust="spacingAndGlyphs">p.adjust</text>
<rect x="1578.9" y="1141.2" width="28.9" height="118.7" fill="url(#pg)"/>
<line x1="1578.9" y1="1151.7" x2="1584.7" y2="1151.7" stroke="#fff" stroke-width="1.1"/>
<line x1="1602" y1="1151.7" x2="1607.8" y2="1151.7" stroke="#fff" stroke-width="1.1"/>
<text x="1616.6" y="1157.7" font-size="23.3" textLength="46.03" lengthAdjust="spacingAndGlyphs">0.08</text>
<line x1="1578.9" y1="1179.2" x2="1584.7" y2="1179.2" stroke="#fff" stroke-width="1.1"/>
<line x1="1602" y1="1179.2" x2="1607.8" y2="1179.2" stroke="#fff" stroke-width="1.1"/>
<text x="1616.6" y="1185.2" font-size="23.3" textLength="46.03" lengthAdjust="spacingAndGlyphs">0.06</text>
<line x1="1578.9" y1="1206" x2="1584.7" y2="1206" stroke="#fff" stroke-width="1.1"/>
<line x1="1602" y1="1206" x2="1607.8" y2="1206" stroke="#fff" stroke-width="1.1"/>
<text x="1616.6" y="1212" font-size="23.3" textLength="46.03" lengthAdjust="spacingAndGlyphs">0.04</text>
<line x1="1578.9" y1="1232.8" x2="1584.7" y2="1232.8" stroke="#fff" stroke-width="1.1"/>
<line x1="1602" y1="1232.8" x2="1607.8" y2="1232.8" stroke="#fff" stroke-width="1.1"/>
<text x="1616.6" y="1238.8" font-size="23.3" textLength="46.03" lengthAdjust="spacingAndGlyphs">0.02</text>
<text x="1579" y="1297.5" font-size="23.3" textLength="74.93" lengthAdjust="spacingAndGlyphs">Counts</text>
<circle cx="1597.7" cy="1316.4" r="10.1" fill="none" stroke="#000" stroke-width="2.4"/>
<text x="1626" y="1325.4" font-size="23.3" textLength="26.31" lengthAdjust="spacingAndGlyphs">10</text>
<circle cx="1597.7" cy="1343" r="11.8" fill="none" stroke="#000" stroke-width="2.4"/>
<text x="1626" y="1352" font-size="23.3" textLength="26.31" lengthAdjust="spacingAndGlyphs">20</text>
<circle cx="1597.7" cy="1374.6" r="13.9" fill="none" stroke="#000" stroke-width="2.4"/>
<text x="1626" y="1383.6" font-size="23.3" textLength="26.31" lengthAdjust="spacingAndGlyphs">30</text>
<circle cx="1597.7" cy="1410.8" r="15" fill="none" stroke="#000" stroke-width="2.4"/>
<text x="1626" y="1419.8" font-size="23.3" textLength="26.31" lengthAdjust="spacingAndGlyphs">40</text>
</g>
<g id="panelC">
<path d="M825.4 1748L825.4 1747.5L826.9 1747.4L828.4 1747.4L829.9 1747.4L831.4 1747.4L832.9 1747.4L834.4 1747.4L835.9 1747.4L837.4 1747.4L838.9 1747.4L840.4 1747.4L841.9 1747.3L843.4 1747.3L844.9 1747.3L846.4 1747.2L847.9 1747.2L849.4 1747.1L850.9 1747.1L852.4 1747L853.9 1747L855.4 1746.9L856.9 1746.8L858.4 1746.7L859.9 1746.7L861.4 1746.6L862.9 1746.4L864.4 1746.3L865.9 1746.2L867.4 1746L868.9 1745.9L870.4 1745.7L871.9 1745.5L873.4 1745.2L874.9 1744.9L876.4 1744.6L877.9 1744.2L879.4 1743.8L880.9 1743.3L882.4 1742.8L883.9 1742.1L885.4 1741.5L886.9 1740.7L888.4 1739.9L889.9 1739.1L891.4 1738.1L892.9 1737.2L894.4 1736.1L895.9 1735.1L897.4 1734L898.9 1732.8L900.4 1731.6L901.9 1730.3L903.4 1728.9L904.9 1727.6L906.4 1726.2L907.9 1724.9L909.4 1723.5L910.9 1722.1L912.4 1720.7L913.9 1719.2L915.4 1717.8L916.9 1716.4L918.4 1715.1L919.9 1713.9L921.4 1712.8L922.9 1711.7L924.4 1710.8L925.9 1709.9L927.4 1709L928.9 1708.3L930.4 1707.6L931.9 1706.9L933.4 1706.4L934.9 1705.8L936.4 1705.4L937.9 1705L939.4 1704.7L940.9 1704.5L942.4 1704.3L943.9 1704.2L945.4 1704.3L946.9 1704.4L948.4 1704.6L949.9 1704.8L951.4 1705.1L952.9 1705.4L954.4 1705.7L955.9 1706L957.4 1706.4L958.9 1706.9L960.4 1707.4L961.9 1707.9L963.4 1708.4L964.9 1708.8L966.4 1709.3L967.9 1709.8L969.4 1710.3L970.9 1710.8L972.4 1711.4L973.9 1711.9L975.4 1712.4L976.9 1712.8L978.4 1713.3L979.9 1713.8L981.4 1714.2L982.9 1714.7L984.4 1715.1L985.9 1715.5L987.4 1715.9L988.9 1716.2L990.4 1716.5L991.9 1716.8L993.4 1717.1L994.9 1717.4L996.4 1717.7L997.9 1718L999.4 1718.2L1000.9 1718.5L1002.4 1718.7L1003.9 1719L1005.4 1719.2L1006.9 1719.4L1008.4 1719.6L1009.9 1719.8L1011.4 1720L1012.9 1720.1L1014.4 1720.3L1015.9 1720.4L1017.4 1720.6L1018.9 1720.7L1020.4 1720.8L1021.9 1720.9L1023.4 1721.1L1024.9 1721.2L1026.4 1721.4L1027.9 1721.5L1029.4 1721.7L1030.9 1721.8L1032.4 1721.9L1033.9 1722.1L1035.4 1722.2L1036.9 1722.4L1038.4 1722.5L1039.9 1722.6L1041.4 1722.8L1042.9 1723L1044.4 1723.2L1045.9 1723.3L1047.4 1723.5L1048.9 1723.7L1050.4 1724L1051.9 1724.2L1053.4 1724.4L1054.9 1724.6L1056.4 1724.9L1057.9 1725.1L1059.4 1725.3L1060.9 1725.6L1062.4 1725.8L1063.9 1726.1L1065.4 1726.3L1066.9 1726.6L1068.4 1726.9L1069.9 1727.2L1071.4 1727.5L1072.9 1727.7L1074.4 1728L1075.9 1728.3L1077.4 1728.5L1078.9 1728.8L1080.4 1729L1081.9 1729.1L1083.4 1729.3L1084.9 1729.4L1086.4 1729.5L1087.9 1729.7L1089.4 1729.8L1090.9 1729.9L1092.4 1730L1093.9 1730.1L1095.4 1730.2L1096.9 1730.3L1098.4 1730.4L1099.9 1730.5L1101.4 1730.6L1102.9 1730.7L1104.4 1730.8L1105.9 1730.9L1107.4 1731L1108.9 1731.1L1110.4 1731.2L1111.9 1731.3L1113.4 1731.4L1114.9 1731.5L1116.4 1731.6L1117.9 1731.7L1119.4 1731.8L1120.9 1732L1122.4 1732.1L1123.9 1732.2L1125.4 1732.3L1126.9 1732.4L1128.4 1732.5L1129.9 1732.6L1131.4 1732.7L1132.9 1732.8L1134.4 1732.9L1135.9 1733L1137.4 1733.1L1138.9 1733.2L1140.4 1733.3L1141.9 1733.5L1143.4 1733.6L1144.9 1733.7L1146.4 1733.8L1147.9 1734L1149.4 1734.1L1150.9 1734.2L1152.4 1734.4L1153.9 1734.6L1155.4 1734.7L1156.9 1734.9L1158.4 1735.1L1159.9 1735.3L1161.4 1735.6L1162.9 1735.8L1164.4 1736L1165.9 1736.3L1167.4 1736.5L1168.9 1736.8L1170.4 1737L1171.9 1737.3L1173.4 1737.6L1174.9 1737.8L1176.4 1738.1L1177.9 1738.4L1179.4 1738.7L1180.9 1739L1182.4 1739.3L1183.9 1739.7L1185.4 1740L1186.9 1740.3L1188.4 1740.6L1189.9 1740.9L1191.4 1741.2L1192.9 1741.5L1194.4 1741.7L1195.9 1742L1197.4 1742.2L1198.9 1742.5L1200.4 1742.7L1201.9 1743L1203.4 1743.2L1204.9 1743.4L1206.4 1743.6L1207.9 1743.8L1209.4 1744L1210.9 1744.2L1212.4 1744.4L1213.9 1744.6L1215.4 1744.7L1216.9 1744.9L1218.4 1745L1219.9 1745.2L1221.4 1745.3L1222.9 1745.4L1224.4 1745.6L1225.9 1745.7L1227.4 1745.7L1228.9 1745.8L1230.4 1745.9L1231.9 1746L1233.4 1746L1234.9 1746.1L1236.4 1746.1L1237.9 1746.1L1239.4 1746.2L1240.9 1746.2L1242.4 1746.2L1243.9 1746.2L1245.4 1746.3L1246.9 1746.3L1248.4 1746.3L1249.9 1746.3L1251.4 1746.3L1252.9 1746.3L1254.4 1746.3L1255.9 1746.4L1257.4 1746.4L1258.9 1746.4L1260.4 1746.4L1261.9 1746.4L1263.4 1746.4L1264.9 1746.4L1266.4 1746.5L1267.9 1746.5L1269.4 1746.5L1270.9 1746.5L1272.4 1746.6L1273.9 1746.6L1275.4 1746.6L1276.9 1746.7L1278.4 1746.7L1279.9 1746.7L1281.4 1746.8L1282.9 1746.8L1284.4 1746.8L1285.9 1746.9L1287.4 1746.9L1288.9 1746.9L1290.4 1747L1291.9 1747L1293.4 1747L1294.9 1747L1296.4 1747.1L1297.9 1747.1L1299.4 1747.1L1300.9 1747.2L1302.4 1747.2L1303.9 1747.2L1305.4 1747.2L1306.9 1747.3L1308.4 1747.3L1309.9 1747.3L1311.4 1747.3L1312.9 1747.3L1314.4 1747.3L1315.9 1747.4L1317.4 1747.4L1318.9 1747.4L1320.4 1747.4L1321.9 1747.4L1323.4 1747.4L1324.9 1747.4L1326.4 1747.4L1327.9 1747.4L1329.4 1747.4L1330.9 1747.4L1332.4 1747.4L1333.9 1747.4L1335.4 1747.4L1336.9 1747.4L1338.4 1747.4L1339.9 1747.4L1341.4 1747.4L1342.1 1747.5L1342.1 1748Z" fill="#E9B7BD"/>
<path d="M910 1748.95v10.8M912.1 1748.95v10.8M914.8 1748.95v10.8M917.2 1748.95v10.8M919.7 1748.95v10.8M922 1748.95v10.8M924.2 1748.95v10.8M926.7 1748.95v10.8M932 1748.95v10.8M933.7 1748.95v10.8M934.4 1748.95v10.8M937.1 1748.95v10.8M937.9 1748.95v10.8M939.9 1748.95v10.8M943.7 1748.95v10.8M946 1748.95v10.8M951.3 1748.95v10.8M954.1 1748.95v10.8M960.8 1748.95v10.8M962.6 1748.95v10.8M965.1 1748.95v10.8M967.4 1748.95v10.8M969.8 1748.95v10.8M971.5 1748.95v10.8M976.3 1748.95v10.8M981.6 1748.95v10.8M985.4 1748.95v10.8M990.5 1748.95v10.8M992.4 1748.95v10.8M994.3 1748.95v10.8M995.8 1748.95v10.8M997.7 1748.95v10.8M1003.7 1748.95v10.8M1006.2 1748.95v10.8M1008.5 1748.95v10.8M1015.3 1748.95v10.8M1018.1 1748.95v10.8M1020 1748.95v10.8M1030.8 1748.95v10.8M1033.2 1748.95v10.8M1035.5 1748.95v10.8M1041.6 1748.95v10.8M1045.6 1748.95v10.8M1047.4 1748.95v10.8M1052 1748.95v10.8M1056.7 1748.95v10.8M1062.4 1748.95v10.8M1064.9 1748.95v10.8M1067.3 1748.95v10.8M1074.3 1748.95v10.8M1086.6 1748.95v10.8M1093.6 1748.95v10.8M1097.4 1748.95v10.8M1102.3 1748.95v10.8M1106.1 1748.95v10.8M1110.3 1748.95v10.8M1115.2 1748.95v10.8M1118.8 1748.95v10.8M1132.1 1748.95v10.8M1137.2 1748.95v10.8M1144 1748.95v10.8M1145.9 1748.95v10.8M1155.3 1748.95v10.8M1163.7 1748.95v10.8M1166.1 1748.95v10.8M1169.9 1748.95v10.8M1176.9 1748.95v10.8M1179.6 1748.95v10.8M1200.2 1748.95v10.8M1217.4 1748.95v10.8M1267.8 1748.95v10.8" stroke="#D4707E" stroke-width="1" stroke-opacity="0.9" fill="none"/>
<path d="M844.4 1820L844.4 1819.5L845.9 1819.5L847.4 1819.5L848.9 1819.5L850.4 1819.5L851.9 1819.4L853.4 1819.4L854.9 1819.4L856.4 1819.4L857.9 1819.3L859.4 1819.3L860.9 1819.3L862.4 1819.2L863.9 1819.2L865.4 1819.1L866.9 1819.1L868.4 1819L869.9 1819L871.4 1818.9L872.9 1818.8L874.4 1818.7L875.9 1818.7L877.4 1818.6L878.9 1818.4L880.4 1818.3L881.9 1818.2L883.4 1818L884.9 1817.8L886.4 1817.6L887.9 1817.4L889.4 1817.1L890.9 1816.8L892.4 1816.5L893.9 1816.1L895.4 1815.7L896.9 1815.2L898.4 1814.7L899.9 1814.1L901.4 1813.5L902.9 1812.9L904.4 1812.2L905.9 1811.4L907.4 1810.6L908.9 1809.8L910.4 1808.9L911.9 1808L913.4 1807L914.9 1806L916.4 1804.9L917.9 1803.8L919.4 1802.6L920.9 1801.5L922.4 1800.3L923.9 1799L925.4 1797.8L926.9 1796.4L928.4 1795.1L929.9 1793.7L931.4 1792.3L932.9 1791L934.4 1789.7L935.9 1788.5L937.4 1787.3L938.9 1786.1L940.4 1784.9L941.9 1783.7L943.4 1782.7L944.9 1781.7L946.4 1780.8L947.9 1780L949.4 1779.3L950.9 1778.6L952.4 1778L953.9 1777.5L955.4 1777L956.9 1776.7L958.4 1776.5L959.9 1776.3L961.4 1776.3L962.9 1776.4L964.4 1776.5L965.9 1776.7L967.4 1777L968.9 1777.2L970.4 1777.5L971.9 1777.8L973.4 1778.1L974.9 1778.5L976.4 1778.9L977.9 1779.4L979.4 1779.8L980.9 1780.2L982.4 1780.5L983.9 1780.9L985.4 1781.3L986.9 1781.7L988.4 1782.1L989.9 1782.5L991.4 1782.8L992.9 1783.1L994.4 1783.4L995.9 1783.7L997.4 1784L998.9 1784.3L1000.4 1784.6L1001.9 1784.9L1003.4 1785.1L1004.9 1785.4L1006.4 1785.7L1007.9 1785.9L1009.4 1786.2L1010.9 1786.4L1012.4 1786.6L1013.9 1786.9L1015.4 1787.1L1016.9 1787.3L1018.4 1787.6L1019.9 1787.8L1021.4 1788L1022.9 1788.2L1024.4 1788.4L1025.9 1788.6L1027.4 1788.8L1028.9 1788.9L1030.4 1789.1L1031.9 1789.2L1033.4 1789.4L1034.9 1789.5L1036.4 1789.6L1037.9 1789.8L1039.4 1789.9L1040.9 1790L1042.4 1790.2L1043.9 1790.4L1045.4 1790.6L1046.9 1790.8L1048.4 1791L1049.9 1791.2L1051.4 1791.4L1052.9 1791.7L1054.4 1791.9L1055.9 1792.2L1057.4 1792.4L1058.9 1792.7L1060.4 1793L1061.9 1793.3L1063.4 1793.6L1064.9 1793.9L1066.4 1794.3L1067.9 1794.7L1069.4 1795.1L1070.9 1795.5L1072.4 1795.9L1073.9 1796.4L1075.4 1796.8L1076.9 1797.2L1078.4 1797.6L1079.9 1798.1L1081.4 1798.5L1082.9 1798.9L1084.4 1799.3L1085.9 1799.7L1087.4 1800.1L1088.9 1800.5L1090.4 1800.8L1091.9 1801L1093.4 1801.2L1094.9 1801.4L1096.4 1801.5L1097.9 1801.6L1099.4 1801.7L1100.9 1801.8L1102.4 1801.9L1103.9 1802L1105.4 1802.1L1106.9 1802.2L1108.4 1802.3L1109.9 1802.4L1111.4 1802.4L1112.9 1802.5L1114.4 1802.6L1115.9 1802.7L1117.4 1802.8L1118.9 1802.9L1120.4 1803L1121.9 1803.1L1123.4 1803.1L1124.9 1803.2L1126.4 1803.3L1127.9 1803.4L1129.4 1803.5L1130.9 1803.6L1132.4 1803.7L1133.9 1803.8L1135.4 1803.9L1136.9 1804L1138.4 1804.1L1139.9 1804.2L1141.4 1804.3L1142.9 1804.4L1144.4 1804.6L1145.9 1804.7L1147.4 1804.8L1148.9 1804.9L1150.4 1805.1L1151.9 1805.2L1153.4 1805.3L1154.9 1805.4L1156.4 1805.6L1157.9 1805.7L1159.4 1805.9L1160.9 1806L1162.4 1806.2L1163.9 1806.4L1165.4 1806.6L1166.9 1806.9L1168.4 1807.1L1169.9 1807.4L1171.4 1807.7L1172.9 1808L1174.4 1808.3L1175.9 1808.6L1177.4 1808.9L1178.9 1809.3L1180.4 1809.6L1181.9 1809.9L1183.4 1810.2L1184.9 1810.6L1186.4 1810.9L1187.9 1811.2L1189.4 1811.6L1190.9 1811.9L1192.4 1812.3L1193.9 1812.6L1195.4 1813L1196.9 1813.3L1198.4 1813.6L1199.9 1814L1201.4 1814.3L1202.9 1814.5L1204.4 1814.8L1205.9 1815L1207.4 1815.3L1208.9 1815.5L1210.4 1815.7L1211.9 1815.9L1213.4 1816.1L1214.9 1816.3L1216.4 1816.4L1217.9 1816.6L1219.4 1816.8L1220.9 1816.9L1222.4 1817.1L1223.9 1817.2L1225.4 1817.3L1226.9 1817.4L1228.4 1817.5L1229.9 1817.6L1231.4 1817.7L1232.9 1817.8L1234.4 1817.9L1235.9 1818L1237.4 1818L1238.9 1818.1L1240.4 1818.1L1241.9 1818.2L1243.4 1818.2L1244.9 1818.3L1246.4 1818.3L1247.9 1818.3L1249.4 1818.3L1250.9 1818.4L1252.4 1818.4L1253.9 1818.4L1255.4 1818.4L1256.9 1818.4L1258.4 1818.4L1259.9 1818.4L1261.4 1818.5L1262.9 1818.5L1264.4 1818.5L1265.9 1818.5L1267.4 1818.5L1268.9 1818.5L1270.4 1818.5L1271.9 1818.6L1273.4 1818.6L1274.9 1818.6L1276.4 1818.6L1277.9 1818.7L1279.4 1818.7L1280.9 1818.7L1282.4 1818.7L1283.9 1818.8L1285.4 1818.8L1286.9 1818.8L1288.4 1818.8L1289.9 1818.9L1291.4 1818.9L1292.9 1818.9L1294.4 1818.9L1295.9 1818.9L1297.4 1819L1298.9 1819L1300.4 1819L1301.9 1819L1303.4 1819.1L1304.9 1819.1L1306.4 1819.1L1307.9 1819.1L1309.4 1819.1L1310.9 1819.2L1312.4 1819.2L1313.9 1819.2L1315.4 1819.2L1316.9 1819.2L1318.4 1819.3L1319.9 1819.3L1321.4 1819.3L1322.9 1819.3L1324.4 1819.3L1325.9 1819.4L1327.4 1819.4L1328.9 1819.4L1330.4 1819.4L1331.9 1819.4L1333.4 1819.4L1334.9 1819.4L1336.4 1819.5L1337.9 1819.5L1339.4 1819.5L1340.9 1819.5L1342.4 1819.5L1343.9 1819.5L1344 1819.5L1344 1820Z" fill="#B8F3E8"/>
<path d="M932 1820.98v10.8M933.7 1820.98v10.8M934.4 1820.98v10.8M937.1 1820.98v10.8M937.9 1820.98v10.8M939.9 1820.98v10.8M943.7 1820.98v10.8M946 1820.98v10.8M951.3 1820.98v10.8M954.1 1820.98v10.8M960.8 1820.98v10.8M962.6 1820.98v10.8M965.1 1820.98v10.8M967.4 1820.98v10.8M969.8 1820.98v10.8M971.5 1820.98v10.8M976.3 1820.98v10.8M981.6 1820.98v10.8M985.4 1820.98v10.8M990.5 1820.98v10.8M992.4 1820.98v10.8M994.3 1820.98v10.8M995.8 1820.98v10.8M997.7 1820.98v10.8M1003.7 1820.98v10.8M1006.2 1820.98v10.8M1008.5 1820.98v10.8M1015.3 1820.98v10.8M1018.1 1820.98v10.8M1020 1820.98v10.8M1030.8 1820.98v10.8M1033.2 1820.98v10.8M1035.5 1820.98v10.8M1041.6 1820.98v10.8M1045.6 1820.98v10.8M1047.4 1820.98v10.8M1052 1820.98v10.8M1056.7 1820.98v10.8M1062.4 1820.98v10.8M1064.9 1820.98v10.8M1067.3 1820.98v10.8M1074.3 1820.98v10.8M1086.6 1820.98v10.8M1093.6 1820.98v10.8M1102.3 1820.98v10.8M1106.1 1820.98v10.8M1110.3 1820.98v10.8M1115.2 1820.98v10.8M1118.8 1820.98v10.8M1132.1 1820.98v10.8M1144 1820.98v10.8M1145.9 1820.98v10.8M1155.3 1820.98v10.8M1163.7 1820.98v10.8M1166.1 1820.98v10.8M1169.9 1820.98v10.8M1176.9 1820.98v10.8M1179.6 1820.98v10.8M1200.2 1820.98v10.8M1217.4 1820.98v10.8M1267.8 1820.98v10.8" stroke="#72E2CE" stroke-width="1" stroke-opacity="0.9" fill="none"/>
<path d="M824.5 1892.1L824.5 1891.5L826 1891.5L827.5 1891.5L829 1891.5L830.5 1891.5L832 1891.5L833.5 1891.5L835 1891.4L836.5 1891.4L838 1891.4L839.5 1891.3L841 1891.3L842.5 1891.3L844 1891.2L845.5 1891.1L847 1891.1L848.5 1891L850 1890.9L851.5 1890.8L853 1890.8L854.5 1890.7L856 1890.5L857.5 1890.4L859 1890.3L860.5 1890.1L862 1889.8L863.5 1889.6L865 1889.3L866.5 1889.1L868 1888.7L869.5 1888.4L871 1888.1L872.5 1887.7L874 1887.3L875.5 1886.9L877 1886.4L878.5 1885.9L880 1885.3L881.5 1884.6L883 1884L884.5 1883.2L886 1882.4L887.5 1881.6L889 1880.7L890.5 1879.8L892 1878.8L893.5 1877.8L895 1876.6L896.5 1875.4L898 1874.2L899.5 1872.9L901 1871.6L902.5 1870.3L904 1869L905.5 1867.8L907 1866.6L908.5 1865.4L910 1864.2L911.5 1863L913 1861.9L914.5 1860.8L916 1859.9L917.5 1859L919 1858.3L920.5 1857.5L922 1856.9L923.5 1856.3L925 1855.8L926.5 1855.3L928 1854.9L929.5 1854.6L931 1854.4L932.5 1854.3L934 1854.3L935.5 1854.4L937 1854.6L938.5 1854.9L940 1855.1L941.5 1855.5L943 1855.8L944.5 1856.2L946 1856.7L947.5 1857.2L949 1857.7L950.5 1858.3L952 1858.9L953.5 1859.6L955 1860.3L956.5 1860.9L958 1861.6L959.5 1862.3L961 1863.1L962.5 1863.9L964 1864.6L965.5 1865.4L967 1866.2L968.5 1866.9L970 1867.6L971.5 1868.3L973 1869L974.5 1869.7L976 1870.3L977.5 1870.9L979 1871.5L980.5 1872L982 1872.4L983.5 1872.8L985 1873.2L986.5 1873.5L988 1873.9L989.5 1874.2L991 1874.4L992.5 1874.6L994 1874.7L995.5 1874.8L997 1874.9L998.5 1874.8L1000 1874.6L1001.5 1874.4L1003 1874.1L1004.5 1873.7L1006 1873.3L1007.5 1872.9L1009 1872.4L1010.5 1871.8L1012 1871.2L1013.5 1870.6L1015 1869.9L1016.5 1869.2L1018 1868.5L1019.5 1867.7L1021 1866.9L1022.5 1866L1024 1865.1L1025.5 1864.2L1027 1863.3L1028.5 1862.4L1030 1861.5L1031.5 1860.7L1033 1859.9L1034.5 1859.1L1036 1858.3L1037.5 1857.5L1039 1856.8L1040.5 1856.2L1042 1855.7L1043.5 1855.2L1045 1854.7L1046.5 1854.4L1048 1854L1049.5 1853.8L1051 1853.6L1052.5 1853.5L1054 1853.4L1055.5 1853.4L1057 1853.5L1058.5 1853.6L1060 1853.8L1061.5 1854.1L1063 1854.4L1064.5 1854.7L1066 1855.2L1067.5 1855.6L1069 1856.2L1070.5 1856.7L1072 1857.4L1073.5 1858L1075 1858.6L1076.5 1859.4L1078 1860.3L1079.5 1861.3L1081 1862.2L1082.5 1863.1L1084 1864L1085.5 1864.9L1087 1865.7L1088.5 1866.6L1090 1867.5L1091.5 1868.3L1093 1869.1L1094.5 1869.9L1096 1870.7L1097.5 1871.4L1099 1872.2L1100.5 1872.9L1102 1873.6L1103.5 1874.2L1105 1874.9L1106.5 1875.5L1108 1876.1L1109.5 1876.6L1111 1877.2L1112.5 1877.6L1114 1878L1115.5 1878.4L1117 1878.7L1118.5 1879.1L1120 1879.3L1121.5 1879.6L1123 1879.8L1124.5 1879.9L1126 1880.1L1127.5 1880.2L1129 1880.2L1130.5 1880.3L1132 1880.3L1133.5 1880.3L1135 1880.3L1136.5 1880.3L1138 1880.3L1139.5 1880.2L1141 1880.2L1142.5 1880.1L1144 1880.1L1145.5 1880L1147 1879.9L1148.5 1879.9L1150 1879.8L1151.5 1879.7L1153 1879.5L1154.5 1879.4L1156 1879.3L1157.5 1879.2L1159 1879.1L1160.5 1878.9L1162 1878.8L1163.5 1878.7L1165 1878.6L1166.5 1878.6L1168 1878.5L1169.5 1878.4L1171 1878.4L1172.5 1878.3L1174 1878.3L1175.5 1878.3L1177 1878.2L1178.5 1878.2L1180 1878.3L1181.5 1878.3L1183 1878.3L1184.5 1878.4L1186 1878.4L1187.5 1878.5L1189 1878.6L1190.5 1878.8L1192 1879L1193.5 1879.2L1195 1879.5L1196.5 1879.8L1198 1880.1L1199.5 1880.5L1201 1880.9L1202.5 1881.3L1204 1881.7L1205.5 1882.1L1207 1882.5L1208.5 1882.9L1210 1883.3L1211.5 1883.8L1213 1884.2L1214.5 1884.6L1216 1885L1217.5 1885.5L1219 1885.9L1220.5 1886.3L1222 1886.7L1223.5 1887.1L1225 1887.4L1226.5 1887.7L1228 1888.1L1229.5 1888.4L1231 1888.7L1232.5 1889L1234 1889.2L1235.5 1889.5L1237 1889.7L1238.5 1889.9L1240 1890.1L1241.5 1890.3L1243 1890.4L1244.5 1890.6L1246 1890.7L1247.5 1890.8L1249 1890.9L1250.5 1891L1252 1891.1L1253.5 1891.1L1255 1891.2L1256.5 1891.2L1258 1891.2L1259.5 1891.3L1261 1891.3L1262.5 1891.3L1264 1891.4L1265.5 1891.4L1267 1891.4L1268.5 1891.4L1270 1891.4L1271.5 1891.5L1273 1891.5L1274.5 1891.5L1276 1891.5L1277.5 1891.5L1279 1891.5L1280.5 1891.5L1282 1891.5L1283.5 1891.5L1285 1891.5L1286.3 1891.5L1286.3 1892.1Z" fill="#A8DCEA"/>
<path d="M914.8 1893.01v10.8M918.2 1893.01v10.8M934.3 1893.01v10.8M943.7 1893.01v10.8M951.3 1893.01v10.8M967.4 1893.01v10.8M992.4 1893.01v10.8M1030.8 1893.01v10.8M1032.3 1893.01v10.8M1045.9 1893.01v10.8M1056.7 1893.01v10.8M1062.4 1893.01v10.8M1065.2 1893.01v10.8M1086.6 1893.01v10.8M1102.7 1893.01v10.8M1145.3 1893.01v10.8M1176.9 1893.01v10.8M1200.2 1893.01v10.8" stroke="#4DB5D5" stroke-width="1" stroke-opacity="0.9" fill="none"/>
<path d="M825.4 1964.1L825.4 1963.5L826.9 1963.5L828.4 1963.5L829.9 1963.5L831.4 1963.5L832.9 1963.5L834.4 1963.5L835.9 1963.5L837.4 1963.5L838.9 1963.4L840.4 1963.4L841.9 1963.3L843.4 1963.3L844.9 1963.2L846.4 1963.2L847.9 1963.1L849.4 1963L850.9 1962.9L852.4 1962.8L853.9 1962.7L855.4 1962.6L856.9 1962.5L858.4 1962.3L859.9 1962.1L861.4 1961.9L862.9 1961.7L864.4 1961.4L865.9 1961.1L867.4 1960.7L868.9 1960.3L870.4 1959.9L871.9 1959.4L873.4 1958.9L874.9 1958.3L876.4 1957.6L877.9 1956.9L879.4 1956.1L880.9 1955.3L882.4 1954.3L883.9 1953.3L885.4 1952.2L886.9 1951.1L888.4 1949.8L889.9 1948.5L891.4 1947.1L892.9 1945.6L894.4 1944.1L895.9 1942.3L897.4 1940.5L898.9 1938.6L900.4 1936.6L901.9 1934.7L903.4 1932.7L904.9 1930.8L906.4 1928.9L907.9 1926.9L909.4 1925L910.9 1923L912.4 1921.1L913.9 1919.3L915.4 1917.5L916.9 1915.9L918.4 1914.3L919.9 1912.8L921.4 1911.3L922.9 1909.9L924.4 1908.6L925.9 1907.4L927.4 1906.3L928.9 1905.4L930.4 1904.6L931.9 1903.8L933.4 1903.2L934.9 1902.7L936.4 1902.2L937.9 1901.8L939.4 1901.3L940.9 1901L942.4 1900.9L943.9 1900.8L945.4 1900.8L946.9 1900.9L948.4 1901.1L949.9 1901.3L951.4 1901.5L952.9 1901.8L954.4 1902.1L955.9 1902.5L957.4 1902.8L958.9 1903.3L960.4 1903.7L961.9 1904.2L963.4 1904.8L964.9 1905.3L966.4 1905.9L967.9 1906.6L969.4 1907.2L970.9 1907.9L972.4 1908.6L973.9 1909.3L975.4 1910.1L976.9 1910.8L978.4 1911.6L979.9 1912.4L981.4 1913.2L982.9 1914.1L984.4 1914.9L985.9 1915.8L987.4 1916.7L988.9 1917.6L990.4 1918.5L991.9 1919.4L993.4 1920.4L994.9 1921.3L996.4 1922.3L997.9 1923.3L999.4 1924.4L1000.9 1925.4L1002.4 1926.4L1003.9 1927.4L1005.4 1928.4L1006.9 1929.4L1008.4 1930.5L1009.9 1931.5L1011.4 1932.5L1012.9 1933.5L1014.4 1934.4L1015.9 1935.3L1017.4 1936.2L1018.9 1937.1L1020.4 1937.9L1021.9 1938.7L1023.4 1939.5L1024.9 1940.3L1026.4 1941L1027.9 1941.7L1029.4 1942.4L1030.9 1943.1L1032.4 1943.7L1033.9 1944.3L1035.4 1944.9L1036.9 1945.4L1038.4 1945.9L1039.9 1946.4L1041.4 1946.8L1042.9 1947.2L1044.4 1947.7L1045.9 1948.1L1047.4 1948.4L1048.9 1948.8L1050.4 1949.2L1051.9 1949.6L1053.4 1949.9L1054.9 1950.3L1056.4 1950.7L1057.9 1951L1059.4 1951.3L1060.9 1951.7L1062.4 1952L1063.9 1952.3L1065.4 1952.6L1066.9 1953L1068.4 1953.3L1069.9 1953.6L1071.4 1954L1072.9 1954.3L1074.4 1954.6L1075.9 1954.9L1077.4 1955.3L1078.9 1955.6L1080.4 1955.9L1081.9 1956.2L1083.4 1956.5L1084.9 1956.8L1086.4 1957L1087.9 1957.3L1089.4 1957.6L1090.9 1957.8L1092.4 1958L1093.9 1958.2L1095.4 1958.4L1096.9 1958.6L1098.4 1958.8L1099.9 1959L1101.4 1959.1L1102.9 1959.3L1104.4 1959.4L1105.9 1959.6L1107.4 1959.7L1108.9 1959.8L1110.4 1959.9L1111.9 1960L1113.4 1960.1L1114.9 1960.2L1116.4 1960.3L1117.9 1960.3L1119.4 1960.4L1120.9 1960.5L1122.4 1960.6L1123.9 1960.6L1125.4 1960.7L1126.9 1960.7L1128.4 1960.8L1129.9 1960.9L1131.4 1960.9L1132.9 1961L1134.4 1961L1135.9 1961.1L1137.4 1961.1L1138.9 1961.1L1140.4 1961.2L1141.9 1961.2L1143.4 1961.2L1144.9 1961.3L1146.4 1961.3L1147.9 1961.3L1149.4 1961.3L1150.9 1961.4L1152.4 1961.4L1153.9 1961.4L1155.4 1961.4L1156.9 1961.4L1158.4 1961.4L1159.9 1961.5L1161.4 1961.5L1162.9 1961.5L1164.4 1961.5L1165.9 1961.5L1167.4 1961.5L1168.9 1961.6L1170.4 1961.6L1171.9 1961.6L1173.4 1961.6L1174.9 1961.7L1176.4 1961.7L1177.9 1961.7L1179.4 1961.7L1180.9 1961.8L1182.4 1961.8L1183.9 1961.8L1185.4 1961.8L1186.9 1961.9L1188.4 1961.9L1189.9 1961.9L1191.4 1962L1192.9 1962L1194.4 1962L1195.9 1962.1L1197.4 1962.1L1198.9 1962.1L1200.4 1962.2L1201.9 1962.2L1203.4 1962.2L1204.9 1962.3L1206.4 1962.3L1207.9 1962.3L1209.4 1962.3L1210.9 1962.4L1212.4 1962.4L1213.9 1962.4L1215.4 1962.5L1216.9 1962.5L1218.4 1962.5L1219.9 1962.6L1221.4 1962.6L1222.9 1962.6L1224.4 1962.7L1225.9 1962.7L1227.4 1962.7L1228.9 1962.8L1230.4 1962.8L1231.9 1962.8L1233.4 1962.8L1234.9 1962.9L1236.4 1962.9L1237.9 1962.9L1239.4 1963L1240.9 1963L1242.4 1963L1243.9 1963.1L1245.4 1963.1L1246.9 1963.1L1248.4 1963.1L1249.9 1963.2L1251.4 1963.2L1252.9 1963.2L1254.4 1963.2L1255.9 1963.2L1257.4 1963.3L1258.9 1963.3L1260.4 1963.3L1261.9 1963.3L1263.4 1963.3L1264.9 1963.4L1266.4 1963.4L1267.9 1963.4L1269.4 1963.4L1270.9 1963.4L1272.4 1963.5L1273.9 1963.5L1275.4 1963.5L1276.9 1963.5L1278.4 1963.5L1279.9 1963.5L1281.4 1963.5L1282.9 1963.5L1284.4 1963.5L1285.9 1963.5L1287.4 1963.5L1288.2 1963.5L1288.2 1964.1Z" fill="#E898F2"/>
<path d="M910 1965.04v10.8M911.2 1965.04v10.8M912.1 1965.04v10.8M914 1965.04v10.8M915.1 1965.04v10.8M916.3 1965.04v10.8M917.2 1965.04v10.8M918.2 1965.04v10.8M919.1 1965.04v10.8M920.1 1965.04v10.8M924.8 1965.04v10.8M925.7 1965.04v10.8M928.6 1965.04v10.8M929.5 1965.04v10.8M930.5 1965.04v10.8M931.4 1965.04v10.8M932.4 1965.04v10.8M933.3 1965.04v10.8M934.3 1965.04v10.8M935.2 1965.04v10.8M936.2 1965.04v10.8M937.1 1965.04v10.8M938 1965.04v10.8M939 1965.04v10.8M939.9 1965.04v10.8M940.9 1965.04v10.8M941.8 1965.04v10.8M942.8 1965.04v10.8M943.7 1965.04v10.8M945 1965.04v10.8M946.2 1965.04v10.8M951.9 1965.04v10.8M952.8 1965.04v10.8M953.8 1965.04v10.8M962.1 1965.04v10.8M963.2 1965.04v10.8M964.5 1965.04v10.8M965.9 1965.04v10.8M967.4 1965.04v10.8M971.5 1965.04v10.8M972.5 1965.04v10.8M973.4 1965.04v10.8M974.4 1965.04v10.8M975.3 1965.04v10.8M976.5 1965.04v10.8M977.8 1965.04v10.8M979.1 1965.04v10.8M980.3 1965.04v10.8M981.6 1965.04v10.8M982.9 1965.04v10.8M983.8 1965.04v10.8M984.8 1965.04v10.8M989.1 1965.04v10.8M990.1 1965.04v10.8M992.4 1965.04v10.8M996.7 1965.04v10.8M998 1965.04v10.8M999.2 1965.04v10.8M1000.3 1965.04v10.8M1001.5 1965.04v10.8M1002.4 1965.04v10.8M1003.3 1965.04v10.8M1004.5 1965.04v10.8M1005.6 1965.04v10.8M1011.9 1965.04v10.8M1015.3 1965.04v10.8M1026.4 1965.04v10.8M1031.4 1965.04v10.8M1033.2 1965.04v10.8M1045.9 1965.04v10.8M1048.8 1965.04v10.8M1054.8 1965.04v10.8M1055.8 1965.04v10.8M1056.7 1965.04v10.8M1071.5 1965.04v10.8M1093.6 1965.04v10.8M1097.4 1965.04v10.8M1115.4 1965.04v10.8M1137.2 1965.04v10.8M1166.1 1965.04v10.8M1176.9 1965.04v10.8M1215.3 1965.04v10.8" stroke="#D23BE6" stroke-width="1" stroke-opacity="0.9" fill="none"/>
<path d="M813.1 2036.1L813.1 2035.6L814.6 2035.6L816.1 2035.6L817.6 2035.6L819.1 2035.6L820.6 2035.5L822.1 2035.5L823.6 2035.5L825.1 2035.5L826.6 2035.5L828.1 2035.4L829.6 2035.4L831.1 2035.4L832.6 2035.3L834.1 2035.3L835.6 2035.2L837.1 2035.2L838.6 2035.1L840.1 2035L841.6 2034.9L843.1 2034.8L844.6 2034.7L846.1 2034.6L847.6 2034.5L849.1 2034.4L850.6 2034.2L852.1 2034L853.6 2033.8L855.1 2033.6L856.6 2033.3L858.1 2033L859.6 2032.7L861.1 2032.4L862.6 2032L864.1 2031.5L865.6 2031.1L867.1 2030.6L868.6 2030L870.1 2029.4L871.6 2028.8L873.1 2028.1L874.6 2027.4L876.1 2026.7L877.6 2026L879.1 2025.2L880.6 2024.3L882.1 2023.4L883.6 2022.5L885.1 2021.4L886.6 2020.4L888.1 2019.3L889.6 2018.1L891.1 2016.9L892.6 2015.6L894.1 2014.2L895.6 2012.8L897.1 2011.4L898.6 2009.9L900.1 2008.5L901.6 2007.1L903.1 2005.7L904.6 2004.3L906.1 2002.9L907.6 2001.5L909.1 2000.1L910.6 1998.8L912.1 1997.5L913.6 1996.2L915.1 1994.9L916.6 1993.7L918.1 1992.4L919.6 1991.3L921.1 1990.1L922.6 1989.1L924.1 1988.1L925.6 1987.2L927.1 1986.3L928.6 1985.5L930.1 1984.7L931.6 1984L933.1 1983.4L934.6 1982.8L936.1 1982.3L937.6 1981.8L939.1 1981.4L940.6 1981.1L942.1 1980.8L943.6 1980.6L945.1 1980.4L946.6 1980.3L948.1 1980.2L949.6 1980.2L951.1 1980.3L952.6 1980.4L954.1 1980.5L955.6 1980.7L957.1 1980.9L958.6 1981.2L960.1 1981.5L961.6 1981.8L963.1 1982.1L964.6 1982.5L966.1 1982.9L967.6 1983.4L969.1 1983.9L970.6 1984.3L972.1 1984.9L973.6 1985.4L975.1 1986L976.6 1986.6L978.1 1987.2L979.6 1987.8L981.1 1988.5L982.6 1989.1L984.1 1989.8L985.6 1990.5L987.1 1991.1L988.6 1991.8L990.1 1992.5L991.6 1993.2L993.1 1993.9L994.6 1994.5L996.1 1995.2L997.6 1995.9L999.1 1996.5L1000.6 1997.2L1002.1 1997.8L1003.6 1998.5L1005.1 1999.1L1006.6 1999.8L1008.1 2000.4L1009.6 2001L1011.1 2001.6L1012.6 2002.3L1014.1 2002.9L1015.6 2003.5L1017.1 2004.1L1018.6 2004.6L1020.1 2005.2L1021.6 2005.8L1023.1 2006.4L1024.6 2006.9L1026.1 2007.5L1027.6 2008L1029.1 2008.5L1030.6 2009L1032.1 2009.6L1033.6 2010.1L1035.1 2010.6L1036.6 2011.1L1038.1 2011.6L1039.6 2012.1L1041.1 2012.6L1042.6 2013L1044.1 2013.5L1045.6 2014L1047.1 2014.4L1048.6 2014.9L1050.1 2015.3L1051.6 2015.8L1053.1 2016.2L1054.6 2016.7L1056.1 2017.1L1057.6 2017.5L1059.1 2018L1060.6 2018.4L1062.1 2018.8L1063.6 2019.2L1065.1 2019.7L1066.6 2020.1L1068.1 2020.6L1069.6 2021L1071.1 2021.5L1072.6 2022.1L1074.1 2022.6L1075.6 2023.1L1077.1 2023.6L1078.6 2024.1L1080.1 2024.6L1081.6 2025.1L1083.1 2025.6L1084.6 2026L1086.1 2026.5L1087.6 2026.9L1089.1 2027.3L1090.6 2027.8L1092.1 2028.2L1093.6 2028.6L1095.1 2029L1096.6 2029.4L1098.1 2029.7L1099.6 2030L1101.1 2030.3L1102.6 2030.6L1104.1 2030.8L1105.6 2031.1L1107.1 2031.3L1108.6 2031.5L1110.1 2031.7L1111.6 2031.9L1113.1 2032.1L1114.6 2032.2L1116.1 2032.3L1117.6 2032.4L1119.1 2032.5L1120.6 2032.6L1122.1 2032.7L1123.6 2032.8L1125.1 2032.9L1126.6 2032.9L1128.1 2033L1129.6 2033L1131.1 2033.1L1132.6 2033.1L1134.1 2033.2L1135.6 2033.3L1137.1 2033.3L1138.6 2033.4L1140.1 2033.4L1141.6 2033.5L1143.1 2033.5L1144.6 2033.5L1146.1 2033.6L1147.6 2033.6L1149.1 2033.7L1150.6 2033.7L1152.1 2033.7L1153.6 2033.8L1155.1 2033.8L1156.6 2033.9L1158.1 2034L1159.6 2034L1161.1 2034.1L1162.6 2034.2L1164.1 2034.3L1165.6 2034.4L1167.1 2034.4L1168.6 2034.5L1170.1 2034.6L1171.6 2034.7L1173.1 2034.7L1174.6 2034.8L1176.1 2034.9L1177.6 2034.9L1179.1 2035L1180.6 2035L1182.1 2035.1L1183.6 2035.1L1185.1 2035.2L1186.6 2035.2L1188.1 2035.3L1189.6 2035.3L1191.1 2035.3L1192.6 2035.4L1194.1 2035.4L1195.6 2035.4L1197.1 2035.4L1198.6 2035.5L1200.1 2035.5L1201.6 2035.5L1203.1 2035.5L1204.6 2035.5L1206.1 2035.5L1207.6 2035.5L1209.1 2035.5L1210.6 2035.5L1212.1 2035.6L1213.6 2035.6L1215.1 2035.6L1216.6 2035.6L1218.1 2035.6L1219.6 2035.6L1221.1 2035.6L1222 2035.6L1222 2036.1Z" fill="#F2A59A"/>
<path d="M896.8 2037.07v10.8M898.9 2037.07v10.8M901.1 2037.07v10.8M903 2037.07v10.8M904 2037.07v10.8M910.6 2037.07v10.8M912.5 2037.07v10.8M913.4 2037.07v10.8M916.7 2037.07v10.8M918.2 2037.07v10.8M919.1 2037.07v10.8M923.8 2037.07v10.8M929 2037.07v10.8M929.9 2037.07v10.8M930.9 2037.07v10.8M932 2037.07v10.8M933.3 2037.07v10.8M934.8 2037.07v10.8M936.2 2037.07v10.8M942.8 2037.07v10.8M945.6 2037.07v10.8M946.6 2037.07v10.8M947.5 2037.07v10.8M948.5 2037.07v10.8M949.4 2037.07v10.8M950.9 2037.07v10.8M951.9 2037.07v10.8M953.8 2037.07v10.8M959.8 2037.07v10.8M963.2 2037.07v10.8M967.4 2037.07v10.8M971.5 2037.07v10.8M974 2037.07v10.8M976.5 2037.07v10.8M977.6 2037.07v10.8M978.7 2037.07v10.8M979.9 2037.07v10.8M981 2037.07v10.8M982.1 2037.07v10.8M983.5 2037.07v10.8M984.8 2037.07v10.8M985.9 2037.07v10.8M986.9 2037.07v10.8M987.6 2037.07v10.8M992.4 2037.07v10.8M994.8 2037.07v10.8M997.3 2037.07v10.8M1002.8 2037.07v10.8M1007.1 2037.07v10.8M1009.6 2037.07v10.8M1013.2 2037.07v10.8M1018.1 2037.07v10.8M1021.3 2037.07v10.8M1025.5 2037.07v10.8M1030.8 2037.07v10.8M1035.5 2037.07v10.8M1041.6 2037.07v10.8M1046.9 2037.07v10.8M1048.8 2037.07v10.8M1051 2037.07v10.8M1064.9 2037.07v10.8M1067.7 2037.07v10.8M1070.5 2037.07v10.8M1074.3 2037.07v10.8M1082.8 2037.07v10.8M1099.3 2037.07v10.8M1141.5 2037.07v10.8M1144.9 2037.07v10.8" stroke="#E64B35" stroke-width="1" stroke-opacity="0.9" fill="none"/>
<path d="M857.6 2108.2L857.6 2107.6L859.1 2107.6L860.6 2107.6L862.1 2107.6L863.6 2107.6L865.1 2107.6L866.6 2107.6L868.1 2107.6L869.6 2107.5L871.1 2107.5L872.6 2107.5L874.1 2107.4L875.6 2107.4L877.1 2107.3L878.6 2107.3L880.1 2107.2L881.6 2107.1L883.1 2107L884.6 2106.9L886.1 2106.8L887.6 2106.7L889.1 2106.5L890.6 2106.4L892.1 2106.1L893.6 2105.9L895.1 2105.6L896.6 2105.3L898.1 2105L899.6 2104.6L901.1 2104.2L902.6 2103.8L904.1 2103.3L905.6 2102.7L907.1 2102.1L908.6 2101.5L910.1 2100.8L911.6 2100L913.1 2099.1L914.6 2098.2L916.1 2097.1L917.6 2096L919.1 2094.9L920.6 2093.7L922.1 2092.4L923.6 2091.2L925.1 2089.8L926.6 2088.4L928.1 2087L929.6 2085.5L931.1 2083.9L932.6 2082.4L934.1 2080.8L935.6 2079.2L937.1 2077.5L938.6 2075.7L940.1 2073.9L941.6 2072.1L943.1 2070.3L944.6 2068.5L946.1 2066.8L947.6 2065.2L949.1 2063.6L950.6 2062L952.1 2060.4L953.6 2058.9L955.1 2057.5L956.6 2056.1L958.1 2054.8L959.6 2053.7L961.1 2052.5L962.6 2051.5L964.1 2050.6L965.6 2049.7L967.1 2048.8L968.6 2048.1L970.1 2047.4L971.6 2046.9L973.1 2046.4L974.6 2046L976.1 2045.8L977.6 2045.6L979.1 2045.5L980.6 2045.5L982.1 2045.7L983.6 2045.9L985.1 2046.2L986.6 2046.6L988.1 2047L989.6 2047.5L991.1 2048.1L992.6 2048.7L994.1 2049.3L995.6 2050.1L997.1 2050.8L998.6 2051.6L1000.1 2052.5L1001.6 2053.3L1003.1 2054.3L1004.6 2055.3L1006.1 2056.3L1007.6 2057.4L1009.1 2058.4L1010.6 2059.5L1012.1 2060.6L1013.6 2061.7L1015.1 2062.8L1016.6 2063.9L1018.1 2065.1L1019.6 2066.2L1021.1 2067.3L1022.6 2068.5L1024.1 2069.6L1025.6 2070.8L1027.1 2072L1028.6 2073.1L1030.1 2074.2L1031.6 2075.3L1033.1 2076.4L1034.6 2077.4L1036.1 2078.4L1037.6 2079.3L1039.1 2080.2L1040.6 2081L1042.1 2081.9L1043.6 2082.7L1045.1 2083.4L1046.6 2084.2L1048.1 2084.8L1049.6 2085.5L1051.1 2086.1L1052.6 2086.7L1054.1 2087.3L1055.6 2087.8L1057.1 2088.4L1058.6 2088.9L1060.1 2089.4L1061.6 2089.8L1063.1 2090.3L1064.6 2090.7L1066.1 2091.1L1067.6 2091.5L1069.1 2091.9L1070.6 2092.3L1072.1 2092.7L1073.6 2093L1075.1 2093.4L1076.6 2093.7L1078.1 2094L1079.6 2094.3L1081.1 2094.5L1082.6 2094.7L1084.1 2094.9L1085.6 2095L1087.1 2095.1L1088.6 2095.3L1090.1 2095.4L1091.6 2095.5L1093.1 2095.6L1094.6 2095.6L1096.1 2095.7L1097.6 2095.8L1099.1 2095.9L1100.6 2096L1102.1 2096L1103.6 2096.1L1105.1 2096.1L1106.6 2096.2L1108.1 2096.2L1109.6 2096.3L1111.1 2096.4L1112.6 2096.4L1114.1 2096.5L1115.6 2096.5L1117.1 2096.6L1118.6 2096.7L1120.1 2096.7L1121.6 2096.8L1123.1 2096.9L1124.6 2096.9L1126.1 2097L1127.6 2097.1L1129.1 2097.1L1130.6 2097.2L1132.1 2097.3L1133.6 2097.4L1135.1 2097.5L1136.6 2097.6L1138.1 2097.7L1139.6 2097.8L1141.1 2097.9L1142.6 2098L1144.1 2098.1L1145.6 2098.2L1147.1 2098.3L1148.6 2098.4L1150.1 2098.5L1151.6 2098.7L1153.1 2098.8L1154.6 2099L1156.1 2099.1L1157.6 2099.3L1159.1 2099.5L1160.6 2099.7L1162.1 2099.9L1163.6 2100.1L1165.1 2100.3L1166.6 2100.5L1168.1 2100.8L1169.6 2101L1171.1 2101.2L1172.6 2101.4L1174.1 2101.7L1175.6 2101.9L1177.1 2102.1L1178.6 2102.3L1180.1 2102.6L1181.6 2102.8L1183.1 2103L1184.6 2103.3L1186.1 2103.5L1187.6 2103.7L1189.1 2104L1190.6 2104.2L1192.1 2104.4L1193.6 2104.6L1195.1 2104.8L1196.6 2104.9L1198.1 2105.1L1199.6 2105.3L1201.1 2105.4L1202.6 2105.6L1204.1 2105.8L1205.6 2105.9L1207.1 2106L1208.6 2106.2L1210.1 2106.3L1211.6 2106.4L1213.1 2106.5L1214.6 2106.6L1216.1 2106.7L1217.6 2106.8L1219.1 2106.8L1220.6 2106.9L1222.1 2107L1223.6 2107L1225.1 2107.1L1226.6 2107.1L1228.1 2107.1L1229.6 2107.2L1231.1 2107.2L1232.6 2107.2L1234.1 2107.3L1235.6 2107.3L1237.1 2107.3L1238.6 2107.4L1240.1 2107.4L1241.6 2107.4L1243.1 2107.4L1244.6 2107.4L1246.1 2107.5L1247.6 2107.5L1249.1 2107.5L1250.6 2107.5L1252.1 2107.5L1253.6 2107.5L1255.1 2107.6L1256.6 2107.6L1258.1 2107.6L1259.6 2107.6L1261.1 2107.6L1262.6 2107.6L1264.1 2107.6L1265.6 2107.6L1267.1 2107.6L1267.4 2107.6L1267.4 2108.2Z" fill="#80CFC3"/>
<path d="M936.2 2109.1v10.8M938.6 2109.1v10.8M940.9 2109.1v10.8M942.8 2109.1v10.8M944.7 2109.1v10.8M946.6 2109.1v10.8M947.5 2109.1v10.8M948.5 2109.1v10.8M949.4 2109.1v10.8M950.3 2109.1v10.8M951.3 2109.1v10.8M952.2 2109.1v10.8M955.1 2109.1v10.8M956 2109.1v10.8M957 2109.1v10.8M957.9 2109.1v10.8M958.9 2109.1v10.8M959.8 2109.1v10.8M960.8 2109.1v10.8M961.7 2109.1v10.8M962.6 2109.1v10.8M963.6 2109.1v10.8M964.5 2109.1v10.8M965.5 2109.1v10.8M966.4 2109.1v10.8M967.4 2109.1v10.8M968.3 2109.1v10.8M969.3 2109.1v10.8M970.2 2109.1v10.8M971.2 2109.1v10.8M972.1 2109.1v10.8M973.1 2109.1v10.8M974 2109.1v10.8M975 2109.1v10.8M975.9 2109.1v10.8M976.8 2109.1v10.8M977.8 2109.1v10.8M978.7 2109.1v10.8M979.7 2109.1v10.8M980.6 2109.1v10.8M983.5 2109.1v10.8M984.8 2109.1v10.8M986.3 2109.1v10.8M988.2 2109.1v10.8M989.1 2109.1v10.8M992.9 2109.1v10.8M994.3 2109.1v10.8M996.7 2109.1v10.8M998 2109.1v10.8M999.6 2109.1v10.8M1000.7 2109.1v10.8M1001.5 2109.1v10.8M1003 2109.1v10.8M1004.3 2109.1v10.8M1005.2 2109.1v10.8M1006.2 2109.1v10.8M1007.1 2109.1v10.8M1008.1 2109.1v10.8M1011.9 2109.1v10.8M1014.7 2109.1v10.8M1019.4 2109.1v10.8M1024.2 2109.1v10.8M1026.1 2109.1v10.8M1028.3 2109.1v10.8M1032.7 2109.1v10.8M1035.5 2109.1v10.8M1041.2 2109.1v10.8M1045.4 2109.1v10.8M1050.7 2109.1v10.8M1052.6 2109.1v10.8M1053.7 2109.1v10.8M1054.8 2109.1v10.8M1059.7 2109.1v10.8M1063.9 2109.1v10.8M1065.8 2109.1v10.8M1073 2109.1v10.8M1074.9 2109.1v10.8M1092.3 2109.1v10.8M1094.8 2109.1v10.8M1098 2109.1v10.8M1098.9 2109.1v10.8M1099.9 2109.1v10.8M1100.8 2109.1v10.8M1117.9 2109.1v10.8M1118.6 2109.1v10.8M1119.4 2109.1v10.8M1120.3 2109.1v10.8M1121.3 2109.1v10.8M1124.5 2109.1v10.8M1131.5 2109.1v10.8M1143.4 2109.1v10.8M1152.5 2109.1v10.8M1154.8 2109.1v10.8M1156.1 2109.1v10.8M1162 2109.1v10.8M1165.2 2109.1v10.8M1166.7 2109.1v10.8M1171.8 2109.1v10.8M1186.4 2109.1v10.8M1194.1 2109.1v10.8" stroke="#00A087" stroke-width="1" stroke-opacity="0.9" fill="none"/>
<path d="M896.4 2180.2L896.4 2179.6L897.9 2179.6L899.4 2179.6L900.9 2179.6L902.4 2179.6L903.9 2179.6L905.4 2179.6L906.9 2179.6L908.4 2179.5L909.9 2179.5L911.4 2179.5L912.9 2179.4L914.4 2179.4L915.9 2179.4L917.4 2179.3L918.9 2179.3L920.4 2179.2L921.9 2179.1L923.4 2179.1L924.9 2179L926.4 2178.9L927.9 2178.9L929.4 2178.8L930.9 2178.7L932.4 2178.5L933.9 2178.4L935.4 2178.3L936.9 2178.1L938.4 2177.9L939.9 2177.7L941.4 2177.4L942.9 2177.1L944.4 2176.8L945.9 2176.5L947.4 2176.1L948.9 2175.6L950.4 2175.2L951.9 2174.7L953.4 2174.2L954.9 2173.7L956.4 2173.2L957.9 2172.7L959.4 2172.1L960.9 2171.6L962.4 2171L963.9 2170.3L965.4 2169.6L966.9 2168.9L968.4 2168.1L969.9 2167.2L971.4 2166.3L972.9 2165.4L974.4 2164.4L975.9 2163.5L977.4 2162.6L978.9 2161.8L980.4 2160.9L981.9 2160L983.4 2159.1L984.9 2158.2L986.4 2157.3L987.9 2156.5L989.4 2155.7L990.9 2154.9L992.4 2154.1L993.9 2153.4L995.4 2152.6L996.9 2151.9L998.4 2151.2L999.9 2150.5L1001.4 2149.9L1002.9 2149.3L1004.4 2148.7L1005.9 2148.1L1007.4 2147.5L1008.9 2147L1010.4 2146.5L1011.9 2146L1013.4 2145.5L1014.9 2145.1L1016.4 2144.6L1017.9 2144.2L1019.4 2143.8L1020.9 2143.4L1022.4 2143.1L1023.9 2142.7L1025.4 2142.5L1026.9 2142.2L1028.4 2141.9L1029.9 2141.7L1031.4 2141.5L1032.9 2141.3L1034.4 2141.1L1035.9 2140.9L1037.4 2140.8L1038.9 2140.6L1040.4 2140.5L1041.9 2140.4L1043.4 2140.3L1044.9 2140.3L1046.4 2140.2L1047.9 2140.2L1049.4 2140.3L1050.9 2140.3L1052.4 2140.4L1053.9 2140.5L1055.4 2140.6L1056.9 2140.7L1058.4 2140.8L1059.9 2140.9L1061.4 2141L1062.9 2141.2L1064.4 2141.4L1065.9 2141.5L1067.4 2141.7L1068.9 2142L1070.4 2142.2L1071.9 2142.4L1073.4 2142.7L1074.9 2143L1076.4 2143.3L1077.9 2143.6L1079.4 2143.9L1080.9 2144.2L1082.4 2144.6L1083.9 2145L1085.4 2145.4L1086.9 2145.8L1088.4 2146.2L1089.9 2146.5L1091.4 2146.9L1092.9 2147.2L1094.4 2147.6L1095.9 2148L1097.4 2148.3L1098.9 2148.6L1100.4 2148.9L1101.9 2149.2L1103.4 2149.5L1104.9 2149.7L1106.4 2149.9L1107.9 2150.1L1109.4 2150.3L1110.9 2150.5L1112.4 2150.7L1113.9 2150.9L1115.4 2151L1116.9 2151.2L1118.4 2151.3L1119.9 2151.4L1121.4 2151.5L1122.9 2151.5L1124.4 2151.6L1125.9 2151.7L1127.4 2151.7L1128.9 2151.8L1130.4 2151.8L1131.9 2151.8L1133.4 2151.9L1134.9 2151.9L1136.4 2152L1137.9 2152L1139.4 2152.1L1140.9 2152.1L1142.4 2152.1L1143.9 2152.2L1145.4 2152.2L1146.9 2152.3L1148.4 2152.3L1149.9 2152.4L1151.4 2152.5L1152.9 2152.7L1154.4 2152.8L1155.9 2153L1157.4 2153.2L1158.9 2153.4L1160.4 2153.6L1161.9 2153.9L1163.4 2154.1L1164.9 2154.4L1166.4 2154.7L1167.9 2155L1169.4 2155.3L1170.9 2155.6L1172.4 2155.9L1173.9 2156.2L1175.4 2156.6L1176.9 2156.9L1178.4 2157.3L1179.9 2157.7L1181.4 2158.1L1182.9 2158.5L1184.4 2158.9L1185.9 2159.3L1187.4 2159.8L1188.9 2160.2L1190.4 2160.7L1191.9 2161.1L1193.4 2161.6L1194.9 2162.1L1196.4 2162.6L1197.9 2163.1L1199.4 2163.6L1200.9 2164.1L1202.4 2164.6L1203.9 2165.1L1205.4 2165.6L1206.9 2166.1L1208.4 2166.7L1209.9 2167.2L1211.4 2167.7L1212.9 2168.3L1214.4 2168.8L1215.9 2169.4L1217.4 2169.9L1218.9 2170.4L1220.4 2171L1221.9 2171.5L1223.4 2171.9L1224.9 2172.4L1226.4 2172.8L1227.9 2173.2L1229.4 2173.6L1230.9 2174L1232.4 2174.4L1233.9 2174.8L1235.4 2175.1L1236.9 2175.4L1238.4 2175.7L1239.9 2176L1241.4 2176.3L1242.9 2176.5L1244.4 2176.7L1245.9 2176.9L1247.4 2177.1L1248.9 2177.3L1250.4 2177.4L1251.9 2177.6L1253.4 2177.7L1254.9 2177.8L1256.4 2177.9L1257.9 2178L1259.4 2178.1L1260.9 2178.1L1262.4 2178.2L1263.9 2178.2L1265.4 2178.3L1266.9 2178.3L1268.4 2178.4L1269.9 2178.4L1271.4 2178.5L1272.9 2178.5L1274.4 2178.6L1275.9 2178.6L1277.4 2178.6L1278.9 2178.7L1280.4 2178.7L1281.9 2178.8L1283.4 2178.8L1284.9 2178.9L1286.4 2178.9L1287.9 2179L1289.4 2179L1290.9 2179.1L1292.4 2179.1L1293.9 2179.2L1295.4 2179.2L1296.9 2179.2L1298.4 2179.3L1299.9 2179.3L1301.4 2179.3L1302.9 2179.4L1304.4 2179.4L1305.9 2179.4L1307.4 2179.4L1308.9 2179.5L1310.4 2179.5L1311.9 2179.5L1313.4 2179.5L1314.9 2179.5L1316.4 2179.5L1317.9 2179.6L1319.4 2179.6L1320.9 2179.6L1322.4 2179.6L1323.9 2179.6L1325.4 2179.6L1326.9 2179.6L1328.4 2179.6L1329.9 2179.6L1331.4 2179.6L1332.9 2179.6L1334.4 2179.6L1335.9 2179.6L1337.4 2179.6L1338.9 2179.6L1340.4 2179.6L1341.9 2179.6L1343.4 2179.6L1344 2179.6L1344 2180.2Z" fill="#9EA9C4"/>
<path d="M977.8 2181.13v10.8M978.7 2181.13v10.8M980.6 2181.13v10.8M982.9 2181.13v10.8M988.8 2181.13v10.8M992 2181.13v10.8M994.8 2181.13v10.8M997.7 2181.13v10.8M1000.5 2181.13v10.8M1005.6 2181.13v10.8M1006.6 2181.13v10.8M1007.7 2181.13v10.8M1008.8 2181.13v10.8M1010 2181.13v10.8M1011.3 2181.13v10.8M1012.4 2181.13v10.8M1013.6 2181.13v10.8M1014.7 2181.13v10.8M1017.5 2181.13v10.8M1020 2181.13v10.8M1022.3 2181.13v10.8M1024.5 2181.13v10.8M1030.8 2181.13v10.8M1033.6 2181.13v10.8M1035.9 2181.13v10.8M1038.4 2181.13v10.8M1039.7 2181.13v10.8M1040.8 2181.13v10.8M1042 2181.13v10.8M1043.1 2181.13v10.8M1044 2181.13v10.8M1045 2181.13v10.8M1045.9 2181.13v10.8M1046.9 2181.13v10.8M1052 2181.13v10.8M1053.1 2181.13v10.8M1054.4 2181.13v10.8M1056.7 2181.13v10.8M1059.7 2181.13v10.8M1063 2181.13v10.8M1068.1 2181.13v10.8M1069.2 2181.13v10.8M1070.5 2181.13v10.8M1073 2181.13v10.8M1074.1 2181.13v10.8M1075.3 2181.13v10.8M1078.1 2181.13v10.8M1080.9 2181.13v10.8M1081.9 2181.13v10.8M1082.8 2181.13v10.8M1087.9 2181.13v10.8M1092.3 2181.13v10.8M1093.6 2181.13v10.8M1094.8 2181.13v10.8M1096.1 2181.13v10.8M1097.4 2181.13v10.8M1098.9 2181.13v10.8M1102.7 2181.13v10.8M1105.6 2181.13v10.8M1109.3 2181.13v10.8M1110.3 2181.13v10.8M1113.7 2181.13v10.8M1118.8 2181.13v10.8M1119.7 2181.13v10.8M1120.7 2181.13v10.8M1123.9 2181.13v10.8M1126.4 2181.13v10.8M1131.5 2181.13v10.8M1132.4 2181.13v10.8M1136.4 2181.13v10.8M1140.6 2181.13v10.8M1144.4 2181.13v10.8M1149.1 2181.13v10.8M1152.5 2181.13v10.8M1153.4 2181.13v10.8M1154.8 2181.13v10.8M1155.7 2181.13v10.8M1158.5 2181.13v10.8M1161.4 2181.13v10.8M1162.5 2181.13v10.8M1163.7 2181.13v10.8M1164.8 2181.13v10.8M1166.1 2181.13v10.8M1171.8 2181.13v10.8M1174.6 2181.13v10.8M1176.9 2181.13v10.8M1179.4 2181.13v10.8M1186.4 2181.13v10.8M1188.3 2181.13v10.8M1190.7 2181.13v10.8M1193.6 2181.13v10.8M1194.7 2181.13v10.8M1195.8 2181.13v10.8M1200.2 2181.13v10.8M1212.5 2181.13v10.8M1215.3 2181.13v10.8M1216.3 2181.13v10.8M1217.2 2181.13v10.8M1267.8 2181.13v10.8M1275 2181.13v10.8" stroke="#3C5488" stroke-width="1" stroke-opacity="0.9" fill="none"/>
<path d="M825.4 2252.2L825.4 2251.7L826.9 2251.7L828.4 2251.7L829.9 2251.7L831.4 2251.7L832.9 2251.7L834.4 2251.7L835.9 2251.7L837.4 2251.7L838.9 2251.6L840.4 2251.6L841.9 2251.6L843.4 2251.6L844.9 2251.6L846.4 2251.5L847.9 2251.5L849.4 2251.4L850.9 2251.4L852.4 2251.3L853.9 2251.2L855.4 2251.1L856.9 2251L858.4 2250.9L859.9 2250.7L861.4 2250.5L862.9 2250.3L864.4 2250L865.9 2249.7L867.4 2249.4L868.9 2249.1L870.4 2248.7L871.9 2248.4L873.4 2247.9L874.9 2247.5L876.4 2247L877.9 2246.4L879.4 2245.8L880.9 2245.1L882.4 2244.4L883.9 2243.5L885.4 2242.7L886.9 2241.8L888.4 2240.8L889.9 2239.7L891.4 2238.6L892.9 2237.4L894.4 2236.2L895.9 2234.8L897.4 2233.4L898.9 2231.8L900.4 2230.3L901.9 2228.7L903.4 2227.1L904.9 2225.5L906.4 2223.9L907.9 2222.3L909.4 2220.6L910.9 2219L912.4 2217.3L913.9 2215.7L915.4 2214.1L916.9 2212.6L918.4 2211.1L919.9 2209.6L921.4 2208.2L922.9 2206.8L924.4 2205.5L925.9 2204.2L927.4 2203L928.9 2201.8L930.4 2200.8L931.9 2199.7L933.4 2198.7L934.9 2197.8L936.4 2197L937.9 2196.2L939.4 2195.4L940.9 2194.8L942.4 2194.2L943.9 2193.7L945.4 2193.2L946.9 2192.8L948.4 2192.4L949.9 2192.1L951.4 2191.9L952.9 2191.7L954.4 2191.6L955.9 2191.7L957.4 2191.8L958.9 2192L960.4 2192.2L961.9 2192.5L963.4 2192.8L964.9 2193.1L966.4 2193.5L967.9 2193.9L969.4 2194.4L970.9 2194.9L972.4 2195.4L973.9 2196L975.4 2196.7L976.9 2197.3L978.4 2198L979.9 2198.7L981.4 2199.4L982.9 2200.1L984.4 2200.9L985.9 2201.6L987.4 2202.4L988.9 2203.2L990.4 2203.9L991.9 2204.7L993.4 2205.4L994.9 2206.2L996.4 2207L997.9 2207.7L999.4 2208.5L1000.9 2209.3L1002.4 2210L1003.9 2210.8L1005.4 2211.5L1006.9 2212.2L1008.4 2212.9L1009.9 2213.6L1011.4 2214.2L1012.9 2214.9L1014.4 2215.5L1015.9 2216.2L1017.4 2216.8L1018.9 2217.5L1020.4 2218.1L1021.9 2218.8L1023.4 2219.4L1024.9 2220.1L1026.4 2220.7L1027.9 2221.4L1029.4 2222L1030.9 2222.7L1032.4 2223.4L1033.9 2224L1035.4 2224.7L1036.9 2225.3L1038.4 2226L1039.9 2226.7L1041.4 2227.3L1042.9 2228L1044.4 2228.7L1045.9 2229.3L1047.4 2230L1048.9 2230.6L1050.4 2231.3L1051.9 2231.9L1053.4 2232.5L1054.9 2233.1L1056.4 2233.7L1057.9 2234.3L1059.4 2234.8L1060.9 2235.4L1062.4 2235.9L1063.9 2236.5L1065.4 2237L1066.9 2237.6L1068.4 2238.1L1069.9 2238.6L1071.4 2239.2L1072.9 2239.7L1074.4 2240.2L1075.9 2240.7L1077.4 2241.2L1078.9 2241.7L1080.4 2242.1L1081.9 2242.6L1083.4 2243L1084.9 2243.3L1086.4 2243.7L1087.9 2244.1L1089.4 2244.4L1090.9 2244.7L1092.4 2245.1L1093.9 2245.4L1095.4 2245.7L1096.9 2246.1L1098.4 2246.4L1099.9 2246.7L1101.4 2247L1102.9 2247.2L1104.4 2247.5L1105.9 2247.7L1107.4 2247.9L1108.9 2248.1L1110.4 2248.3L1111.9 2248.5L1113.4 2248.6L1114.9 2248.8L1116.4 2248.9L1117.9 2249.1L1119.4 2249.2L1120.9 2249.3L1122.4 2249.4L1123.9 2249.6L1125.4 2249.7L1126.9 2249.7L1128.4 2249.8L1129.9 2249.9L1131.4 2250L1132.9 2250L1134.4 2250.1L1135.9 2250.2L1137.4 2250.2L1138.9 2250.3L1140.4 2250.3L1141.9 2250.4L1143.4 2250.4L1144.9 2250.5L1146.4 2250.6L1147.9 2250.6L1149.4 2250.7L1150.9 2250.7L1152.4 2250.8L1153.9 2250.8L1155.4 2250.9L1156.9 2250.9L1158.4 2251L1159.9 2251L1161.4 2251L1162.9 2251.1L1164.4 2251.1L1165.9 2251.1L1167.4 2251.1L1168.9 2251.1L1170.4 2251.2L1171.9 2251.2L1173.4 2251.2L1174.9 2251.2L1176.4 2251.2L1177.9 2251.2L1179.4 2251.2L1180.9 2251.3L1182.4 2251.3L1183.9 2251.3L1185.4 2251.3L1186.9 2251.3L1188.4 2251.3L1189.9 2251.3L1191.4 2251.3L1192.9 2251.3L1194.4 2251.3L1195.9 2251.3L1197.4 2251.3L1198.9 2251.3L1200.4 2251.4L1201.9 2251.4L1203.4 2251.4L1204.9 2251.4L1206.4 2251.4L1207.9 2251.4L1209.4 2251.4L1210.9 2251.4L1212.4 2251.4L1213.9 2251.4L1215.4 2251.4L1216.9 2251.4L1218.4 2251.4L1219.9 2251.4L1221.4 2251.4L1222.9 2251.4L1224.4 2251.4L1225.9 2251.4L1227.4 2251.4L1228.9 2251.4L1230.4 2251.4L1231.9 2251.4L1233.4 2251.4L1234.9 2251.4L1236.4 2251.3L1237.9 2251.3L1239.4 2251.3L1240.9 2251.3L1242.4 2251.3L1243.9 2251.3L1245.4 2251.3L1246.9 2251.3L1248.4 2251.3L1249.9 2251.3L1251.4 2251.3L1252.9 2251.3L1254.4 2251.3L1255.9 2251.3L1257.4 2251.3L1258.9 2251.3L1260.4 2251.3L1261.9 2251.3L1263.4 2251.3L1264.9 2251.3L1266.4 2251.3L1267.9 2251.3L1269.4 2251.3L1270.9 2251.3L1272.4 2251.3L1273.9 2251.3L1275.4 2251.3L1276.9 2251.3L1278.4 2251.3L1279.9 2251.3L1281.4 2251.3L1282.9 2251.3L1284.4 2251.3L1285.9 2251.3L1287.4 2251.4L1288.9 2251.4L1290.4 2251.4L1291.9 2251.4L1293.4 2251.4L1294.9 2251.4L1296.4 2251.4L1297.9 2251.4L1299.4 2251.4L1300.9 2251.4L1302.4 2251.4L1303.9 2251.5L1305.4 2251.5L1306.9 2251.5L1308.4 2251.5L1309.9 2251.5L1311.4 2251.5L1312.9 2251.5L1314.4 2251.5L1315.9 2251.5L1317.4 2251.5L1318.9 2251.6L1320.4 2251.6L1321.9 2251.6L1323.4 2251.6L1324.9 2251.6L1326.4 2251.6L1327.9 2251.6L1329.4 2251.6L1330.9 2251.6L1332.4 2251.7L1333.9 2251.7L1335.4 2251.7L1336.9 2251.7L1337.4 2251.7L1337.4 2252.2Z" fill="#F9CDBF"/>
<path d="M910.6 2253.16v10.8M911.9 2253.16v10.8M913.1 2253.16v10.8M915 2253.16v10.8M917.6 2253.16v10.8M918.5 2253.16v10.8M919.5 2253.16v10.8M922.1 2253.16v10.8M923.7 2253.16v10.8M925 2253.16v10.8M926.3 2253.16v10.8M929 2253.16v10.8M931.6 2253.16v10.8M933.9 2253.16v10.8M935 2253.16v10.8M936.3 2253.16v10.8M937.5 2253.16v10.8M939.7 2253.16v10.8M940.7 2253.16v10.8M941.6 2253.16v10.8M942.8 2253.16v10.8M943.7 2253.16v10.8M945.2 2253.16v10.8M946.2 2253.16v10.8M947.7 2253.16v10.8M950.3 2253.16v10.8M952.6 2253.16v10.8M954.9 2253.16v10.8M957.2 2253.16v10.8M959.8 2253.16v10.8M960.9 2253.16v10.8M962.8 2253.16v10.8M963.8 2253.16v10.8M964.7 2253.16v10.8M965.9 2253.16v10.8M968.5 2253.16v10.8M969.8 2253.16v10.8M971.4 2253.16v10.8M973.6 2253.16v10.8M975.1 2253.16v10.8M977.4 2253.16v10.8M979.7 2253.16v10.8M981.6 2253.16v10.8M983.8 2253.16v10.8M985.2 2253.16v10.8M987.1 2253.16v10.8M988 2253.16v10.8M989.5 2253.16v10.8M990.7 2253.16v10.8M992.6 2253.16v10.8M993.5 2253.16v10.8M994.8 2253.16v10.8M996.3 2253.16v10.8M997.9 2253.16v10.8M998.8 2253.16v10.8M999.7 2253.16v10.8M1002.4 2253.16v10.8M1005 2253.16v10.8M1006 2253.16v10.8M1007.9 2253.16v10.8M1008.8 2253.16v10.8M1011.1 2253.16v10.8M1012.2 2253.16v10.8M1013.2 2253.16v10.8M1014.7 2253.16v10.8M1017 2253.16v10.8M1019.2 2253.16v10.8M1020.2 2253.16v10.8M1021.1 2253.16v10.8M1022.1 2253.16v10.8M1024.4 2253.16v10.8M1026.2 2253.16v10.8M1027.8 2253.16v10.8M1029.1 2253.16v10.8M1030 2253.16v10.8M1031.5 2253.16v10.8M1032.5 2253.16v10.8M1033.4 2253.16v10.8M1034.4 2253.16v10.8M1035.3 2253.16v10.8M1036.7 2253.16v10.8M1038.9 2253.16v10.8M1040.4 2253.16v10.8M1042 2253.16v10.8M1043.1 2253.16v10.8M1044 2253.16v10.8M1055.4 2253.16v10.8M1056.3 2253.16v10.8M1057.3 2253.16v10.8M1060.1 2253.16v10.8M1063.3 2253.16v10.8M1068.6 2253.16v10.8M1074.3 2253.16v10.8M1075.8 2253.16v10.8M1077.2 2253.16v10.8M1079.1 2253.16v10.8M1083.8 2253.16v10.8M1086.1 2253.16v10.8M1087.2 2253.16v10.8M1088.5 2253.16v10.8M1091.7 2253.16v10.8M1110.3 2253.16v10.8M1131.5 2253.16v10.8M1144.9 2253.16v10.8M1267.8 2253.16v10.8" stroke="#F0896A" stroke-width="1" stroke-opacity="0.9" fill="none"/>
<path d="M857.6 2324.2L857.6 2323.7L859.1 2323.7L860.6 2323.7L862.1 2323.7L863.6 2323.7L865.1 2323.7L866.6 2323.7L868.1 2323.7L869.6 2323.7L871.1 2323.6L872.6 2323.6L874.1 2323.6L875.6 2323.6L877.1 2323.5L878.6 2323.5L880.1 2323.4L881.6 2323.4L883.1 2323.3L884.6 2323.2L886.1 2323.2L887.6 2323.1L889.1 2323L890.6 2322.9L892.1 2322.7L893.6 2322.5L895.1 2322.3L896.6 2322.1L898.1 2321.8L899.6 2321.5L901.1 2321.2L902.6 2320.8L904.1 2320.5L905.6 2320.1L907.1 2319.7L908.6 2319.3L910.1 2318.9L911.6 2318.4L913.1 2317.8L914.6 2317.2L916.1 2316.6L917.6 2315.9L919.1 2315.1L920.6 2314.3L922.1 2313.4L923.6 2312.5L925.1 2311.5L926.6 2310.6L928.1 2309.6L929.6 2308.5L931.1 2307.4L932.6 2306.3L934.1 2305.2L935.6 2304L937.1 2302.8L938.6 2301.7L940.1 2300.5L941.6 2299.2L943.1 2297.9L944.6 2296.6L946.1 2295.3L947.6 2294.1L949.1 2292.9L950.6 2291.7L952.1 2290.6L953.6 2289.5L955.1 2288.5L956.6 2287.5L958.1 2286.5L959.6 2285.6L961.1 2284.7L962.6 2283.8L964.1 2283L965.6 2282.2L967.1 2281.4L968.6 2280.6L970.1 2279.9L971.6 2279.3L973.1 2278.6L974.6 2278L976.1 2277.4L977.6 2276.9L979.1 2276.4L980.6 2275.9L982.1 2275.5L983.6 2275.1L985.1 2274.7L986.6 2274.4L988.1 2274L989.6 2273.8L991.1 2273.5L992.6 2273.3L994.1 2273.1L995.6 2273L997.1 2272.8L998.6 2272.7L1000.1 2272.7L1001.6 2272.6L1003.1 2272.6L1004.6 2272.6L1006.1 2272.6L1007.6 2272.6L1009.1 2272.6L1010.6 2272.7L1012.1 2272.7L1013.6 2272.8L1015.1 2273L1016.6 2273.1L1018.1 2273.3L1019.6 2273.5L1021.1 2273.8L1022.6 2274.1L1024.1 2274.4L1025.6 2274.7L1027.1 2275.1L1028.6 2275.5L1030.1 2275.9L1031.6 2276.3L1033.1 2276.8L1034.6 2277.2L1036.1 2277.8L1037.6 2278.3L1039.1 2278.8L1040.6 2279.4L1042.1 2279.9L1043.6 2280.5L1045.1 2281.1L1046.6 2281.7L1048.1 2282.4L1049.6 2283L1051.1 2283.7L1052.6 2284.3L1054.1 2285L1055.6 2285.7L1057.1 2286.4L1058.6 2287.1L1060.1 2287.8L1061.6 2288.5L1063.1 2289.2L1064.6 2290L1066.1 2290.7L1067.6 2291.4L1069.1 2292.2L1070.6 2293L1072.1 2293.7L1073.6 2294.5L1075.1 2295.2L1076.6 2295.9L1078.1 2296.7L1079.6 2297.4L1081.1 2298.1L1082.6 2298.9L1084.1 2299.6L1085.6 2300.4L1087.1 2301.1L1088.6 2301.9L1090.1 2302.6L1091.6 2303.4L1093.1 2304.2L1094.6 2304.9L1096.1 2305.7L1097.6 2306.4L1099.1 2307.1L1100.6 2307.8L1102.1 2308.4L1103.6 2309L1105.1 2309.6L1106.6 2310.2L1108.1 2310.7L1109.6 2311.2L1111.1 2311.7L1112.6 2312.2L1114.1 2312.7L1115.6 2313.1L1117.1 2313.5L1118.6 2313.8L1120.1 2314.1L1121.6 2314.4L1123.1 2314.7L1124.6 2314.9L1126.1 2315.1L1127.6 2315.3L1129.1 2315.5L1130.6 2315.7L1132.1 2315.9L1133.6 2316L1135.1 2316.1L1136.6 2316.2L1138.1 2316.3L1139.6 2316.5L1141.1 2316.6L1142.6 2316.7L1144.1 2316.8L1145.6 2317L1147.1 2317.2L1148.6 2317.4L1150.1 2317.5L1151.6 2317.7L1153.1 2317.9L1154.6 2318.1L1156.1 2318.3L1157.6 2318.5L1159.1 2318.7L1160.6 2318.9L1162.1 2319.1L1163.6 2319.4L1165.1 2319.6L1166.6 2319.8L1168.1 2320L1169.6 2320.2L1171.1 2320.4L1172.6 2320.6L1174.1 2320.8L1175.6 2320.9L1177.1 2321.1L1178.6 2321.2L1180.1 2321.3L1181.6 2321.5L1183.1 2321.6L1184.6 2321.7L1186.1 2321.8L1187.6 2321.9L1189.1 2322L1190.6 2322L1192.1 2322.1L1193.6 2322.2L1195.1 2322.2L1196.6 2322.3L1198.1 2322.4L1199.6 2322.4L1201.1 2322.5L1202.6 2322.5L1204.1 2322.5L1205.6 2322.6L1207.1 2322.6L1208.6 2322.6L1210.1 2322.7L1211.6 2322.7L1213.1 2322.7L1214.6 2322.8L1216.1 2322.8L1217.6 2322.8L1219.1 2322.9L1220.6 2322.9L1222.1 2322.9L1223.6 2323L1225.1 2323L1226.6 2323L1228.1 2323.1L1229.6 2323.1L1231.1 2323.1L1232.6 2323.2L1234.1 2323.2L1235.6 2323.2L1237.1 2323.3L1238.6 2323.3L1240.1 2323.3L1241.6 2323.4L1243.1 2323.4L1244.6 2323.4L1246.1 2323.4L1247.6 2323.5L1249.1 2323.5L1250.6 2323.5L1252.1 2323.5L1253.6 2323.5L1255.1 2323.6L1256.6 2323.6L1258.1 2323.6L1259.6 2323.6L1261.1 2323.6L1262.6 2323.6L1264.1 2323.6L1265.6 2323.6L1267.1 2323.6L1268.6 2323.6L1270.1 2323.7L1271.6 2323.7L1273.1 2323.7L1274.6 2323.7L1276.1 2323.7L1277.6 2323.7L1279.1 2323.7L1280.6 2323.7L1282.1 2323.7L1283.6 2323.7L1285.1 2323.7L1286.6 2323.7L1288.1 2323.7L1288.2 2323.7L1288.2 2324.2Z" fill="#F0E5D6"/>
<path d="M941.5 2325.19v10.8M944.3 2325.19v10.8M947.5 2325.19v10.8M951.3 2325.19v10.8M954.5 2325.19v10.8M955.5 2325.19v10.8M956.4 2325.19v10.8M957.5 2325.19v10.8M958.9 2325.19v10.8M965.5 2325.19v10.8M967.8 2325.19v10.8M970.2 2325.19v10.8M974.4 2325.19v10.8M981.6 2325.19v10.8M986.7 2325.19v10.8M987.6 2325.19v10.8M988.8 2325.19v10.8M989.9 2325.19v10.8M991 2325.19v10.8M993.9 2325.19v10.8M995 2325.19v10.8M996.7 2325.19v10.8M998 2325.19v10.8M999.6 2325.19v10.8M1005.6 2325.19v10.8M1008.1 2325.19v10.8M1009.4 2325.19v10.8M1010.9 2325.19v10.8M1012.4 2325.19v10.8M1013.8 2325.19v10.8M1015.1 2325.19v10.8M1016.6 2325.19v10.8M1017.7 2325.19v10.8M1018.9 2325.19v10.8M1020 2325.19v10.8M1021.3 2325.19v10.8M1025.5 2325.19v10.8M1026.6 2325.19v10.8M1027.9 2325.19v10.8M1029.5 2325.19v10.8M1030.8 2325.19v10.8M1033.1 2325.19v10.8M1035.5 2325.19v10.8M1041.6 2325.19v10.8M1045.6 2325.19v10.8M1046.5 2325.19v10.8M1047.4 2325.19v10.8M1052.6 2325.19v10.8M1054.4 2325.19v10.8M1059.7 2325.19v10.8M1062 2325.19v10.8M1063.3 2325.19v10.8M1064.9 2325.19v10.8M1067.3 2325.19v10.8M1070.5 2325.19v10.8M1074.9 2325.19v10.8M1086.6 2325.19v10.8M1087.9 2325.19v10.8M1089.5 2325.19v10.8M1094.2 2325.19v10.8M1099.3 2325.19v10.8M1128.8 2325.19v10.8M1133 2325.19v10.8M1144.9 2325.19v10.8M1159.5 2325.19v10.8M1212.5 2325.19v10.8" stroke="#DBC6A8" stroke-width="1" stroke-opacity="0.9" fill="none"/>
<path d="M803.7 2396.3L803.7 2395.7L805.2 2395.7L806.7 2395.7L808.2 2395.7L809.7 2395.7L811.2 2395.7L812.7 2395.6L814.2 2395.6L815.7 2395.5L817.2 2395.5L818.7 2395.4L820.2 2395.3L821.7 2395.2L823.2 2395L824.7 2394.9L826.2 2394.7L827.7 2394.5L829.2 2394.3L830.7 2394.1L832.2 2393.8L833.7 2393.5L835.2 2393.1L836.7 2392.7L838.2 2392.3L839.7 2391.8L841.2 2391.3L842.7 2390.7L844.2 2390.1L845.7 2389.5L847.2 2388.8L848.7 2388L850.2 2387.2L851.7 2386.4L853.2 2385.5L854.7 2384.5L856.2 2383.5L857.7 2382.4L859.2 2381.2L860.7 2379.9L862.2 2378.5L863.7 2377.1L865.2 2375.7L866.7 2374.2L868.2 2372.7L869.7 2371.1L871.2 2369.4L872.7 2367.7L874.2 2366L875.7 2364.3L877.2 2362.5L878.7 2360.8L880.2 2359.1L881.7 2357.3L883.2 2355.5L884.7 2353.6L886.2 2351.9L887.7 2350.1L889.2 2348.5L890.7 2346.9L892.2 2345.4L893.7 2343.9L895.2 2342.4L896.7 2341L898.2 2339.7L899.7 2338.5L901.2 2337.4L902.7 2336.4L904.2 2335.6L905.7 2334.8L907.2 2334.1L908.7 2333.5L910.2 2332.9L911.7 2332.4L913.2 2331.9L914.7 2331.6L916.2 2331.4L917.7 2331.3L919.2 2331.3L920.7 2331.4L922.2 2331.6L923.7 2331.9L925.2 2332.1L926.7 2332.5L928.2 2332.9L929.7 2333.4L931.2 2333.9L932.7 2334.5L934.2 2335.2L935.7 2336L937.2 2336.9L938.7 2337.8L940.2 2338.7L941.7 2339.6L943.2 2340.5L944.7 2341.4L946.2 2342.4L947.7 2343.4L949.2 2344.4L950.7 2345.4L952.2 2346.4L953.7 2347.5L955.2 2348.6L956.7 2349.7L958.2 2350.8L959.7 2351.9L961.2 2353.1L962.7 2354.2L964.2 2355.3L965.7 2356.5L967.2 2357.6L968.7 2358.8L970.2 2359.9L971.7 2361L973.2 2362.2L974.7 2363.3L976.2 2364.4L977.7 2365.4L979.2 2366.5L980.7 2367.6L982.2 2368.6L983.7 2369.6L985.2 2370.6L986.7 2371.5L988.2 2372.4L989.7 2373.3L991.2 2374.1L992.7 2374.9L994.2 2375.7L995.7 2376.4L997.2 2377.1L998.7 2377.7L1000.2 2378.4L1001.7 2378.9L1003.2 2379.4L1004.7 2379.9L1006.2 2380.4L1007.7 2380.8L1009.2 2381.2L1010.7 2381.5L1012.2 2381.8L1013.7 2382L1015.2 2382.2L1016.7 2382.4L1018.2 2382.6L1019.7 2382.7L1021.2 2382.9L1022.7 2383L1024.2 2383.1L1025.7 2383.2L1027.2 2383.3L1028.7 2383.4L1030.2 2383.5L1031.7 2383.5L1033.2 2383.6L1034.7 2383.6L1036.2 2383.6L1037.7 2383.7L1039.2 2383.7L1040.7 2383.8L1042.2 2383.8L1043.7 2383.9L1045.2 2384L1046.7 2384.1L1048.2 2384.2L1049.7 2384.3L1051.2 2384.4L1052.7 2384.5L1054.2 2384.7L1055.7 2384.8L1057.2 2385L1058.7 2385.1L1060.2 2385.3L1061.7 2385.5L1063.2 2385.7L1064.7 2386L1066.2 2386.2L1067.7 2386.5L1069.2 2386.8L1070.7 2387.1L1072.2 2387.3L1073.7 2387.6L1075.2 2387.9L1076.7 2388.2L1078.2 2388.5L1079.7 2388.8L1081.2 2389.2L1082.7 2389.6L1084.2 2390L1085.7 2390.4L1087.2 2390.8L1088.7 2391.3L1090.2 2391.6L1091.7 2392L1093.2 2392.4L1094.7 2392.7L1096.2 2393L1097.7 2393.3L1099.2 2393.6L1100.7 2393.9L1102.2 2394.1L1103.7 2394.3L1105.2 2394.5L1106.7 2394.7L1108.2 2394.8L1109.7 2394.9L1111.2 2395L1112.7 2395.1L1114.2 2395.2L1115.7 2395.3L1117.2 2395.3L1118.7 2395.4L1120.2 2395.4L1121.7 2395.4L1123.2 2395.5L1124.7 2395.5L1126.2 2395.5L1127.7 2395.6L1129.2 2395.6L1130.7 2395.6L1132.2 2395.6L1133.7 2395.6L1135.2 2395.7L1136.7 2395.7L1138.2 2395.7L1139.7 2395.7L1141.2 2395.7L1142.7 2395.7L1144.2 2395.7L1145.7 2395.7L1147.2 2395.7L1148.7 2395.7L1150.2 2395.7L1151.7 2395.7L1153.2 2395.7L1154.7 2395.7L1155.7 2395.7L1155.7 2396.3Z" fill="#D4C0AB"/>
<path d="M872.2 2397.22v10.8M873.3 2397.22v10.8M874.6 2397.22v10.8M876.9 2397.22v10.8M883.2 2397.22v10.8M884.3 2397.22v10.8M885.6 2397.22v10.8M888.8 2397.22v10.8M891.7 2397.22v10.8M895.8 2397.22v10.8M900.2 2397.22v10.8M906.8 2397.22v10.8M907.8 2397.22v10.8M908.7 2397.22v10.8M911.5 2397.22v10.8M914.4 2397.22v10.8M915.3 2397.22v10.8M916.3 2397.22v10.8M919.1 2397.22v10.8M921 2397.22v10.8M922 2397.22v10.8M922.9 2397.22v10.8M923.8 2397.22v10.8M924.8 2397.22v10.8M925.7 2397.22v10.8M926.7 2397.22v10.8M927.6 2397.22v10.8M928.6 2397.22v10.8M929.5 2397.22v10.8M930.9 2397.22v10.8M935.6 2397.22v10.8M944.3 2397.22v10.8M946.6 2397.22v10.8M952.2 2397.22v10.8M953.2 2397.22v10.8M954.1 2397.22v10.8M956.4 2397.22v10.8M958.9 2397.22v10.8M961.3 2397.22v10.8M962.5 2397.22v10.8M963.6 2397.22v10.8M967 2397.22v10.8M968.1 2397.22v10.8M969.3 2397.22v10.8M970.2 2397.22v10.8M971.2 2397.22v10.8M972.1 2397.22v10.8M973.1 2397.22v10.8M984.8 2397.22v10.8M996.3 2397.22v10.8M1005.2 2397.22v10.8M1012.8 2397.22v10.8M1034.6 2397.22v10.8M1037 2397.22v10.8M1040.3 2397.22v10.8M1064.9 2397.22v10.8M1073.4 2397.22v10.8" stroke="#A97C50" stroke-width="1" stroke-opacity="0.9" fill="none"/>
<line x1="776.8" y1="1704" x2="776.8" y2="2420" stroke="#000" stroke-width="2.4"/>
<line x1="775.6" y1="2418.8" x2="1370.8" y2="2418.8" stroke="#000" stroke-width="2.4"/>
<line x1="768.2" y1="1747.65" x2="776.8" y2="1747.65" stroke="#000" stroke-width="2.1"/>
<text x="544.54" y="1754.05" font-size="24.5" textLength="221.79" lengthAdjust="spacingAndGlyphs">KEGG CELL CYCLE</text>
<text x="1408.5" y="1746.2" font-size="23.5" text-anchor="middle" textLength="58.81" lengthAdjust="spacingAndGlyphs">1.524</text>
<text x="1534.8" y="1746.2" font-size="23.5" text-anchor="middle" textLength="58.81" lengthAdjust="spacingAndGlyphs">0.005</text>
<text x="1661.2" y="1746.2" font-size="23.5" text-anchor="middle" textLength="58.81" lengthAdjust="spacingAndGlyphs">0.003</text>
<line x1="768.2" y1="1819.68" x2="776.8" y2="1819.68" stroke="#000" stroke-width="2.1"/>
<text x="573.7" y="1826.08" font-size="24.5" textLength="191.13" lengthAdjust="spacingAndGlyphs">WP CELL CYCLE</text>
<text x="1408.5" y="1818.39" font-size="23.5" text-anchor="middle" textLength="58.81" lengthAdjust="spacingAndGlyphs">1.519</text>
<text x="1534.8" y="1818.39" font-size="23.5" text-anchor="middle" textLength="58.81" lengthAdjust="spacingAndGlyphs">0.005</text>
<text x="1661.2" y="1818.39" font-size="23.5" text-anchor="middle" textLength="58.81" lengthAdjust="spacingAndGlyphs">0.003</text>
<line x1="768.2" y1="1891.71" x2="776.8" y2="1891.71" stroke="#000" stroke-width="2.1"/>
<text x="379.18" y="1898.11" font-size="24.5" textLength="385.74" lengthAdjust="spacingAndGlyphs">BIOCARTA CELLCYCLE PATHWAY</text>
<text x="1408.5" y="1890.58" font-size="23.5" text-anchor="middle" textLength="58.81" lengthAdjust="spacingAndGlyphs">1.430</text>
<text x="1534.8" y="1890.58" font-size="23.5" text-anchor="middle" textLength="58.81" lengthAdjust="spacingAndGlyphs">0.012</text>
<text x="1661.2" y="1890.58" font-size="23.5" text-anchor="middle" textLength="58.81" lengthAdjust="spacingAndGlyphs">0.006</text>
<line x1="768.2" y1="1963.74" x2="776.8" y2="1963.74" stroke="#000" stroke-width="2.1"/>
<text x="251.45" y="1970.14" font-size="24.5" textLength="512.87" lengthAdjust="spacingAndGlyphs">REACTOME REGULATION OF TP53 ACTIVITY</text>
<text x="1408.5" y="1962.77" font-size="23.5" text-anchor="middle" textLength="58.81" lengthAdjust="spacingAndGlyphs">1.459</text>
<text x="1534.8" y="1962.77" font-size="23.5" text-anchor="middle" textLength="58.81" lengthAdjust="spacingAndGlyphs">0.005</text>
<text x="1661.2" y="1962.77" font-size="23.5" text-anchor="middle" textLength="58.81" lengthAdjust="spacingAndGlyphs">0.003</text>
<line x1="768.2" y1="2035.77" x2="776.8" y2="2035.77" stroke="#000" stroke-width="2.1"/>
<text x="258.45" y="2042.17" font-size="24.5" textLength="503.7" lengthAdjust="spacingAndGlyphs">BOYAULT LIVER CANCER SUBCLASS G1 UP</text>
<text x="1408.5" y="2034.96" font-size="23.5" text-anchor="middle" textLength="58.81" lengthAdjust="spacingAndGlyphs">1.466</text>
<text x="1534.8" y="2034.96" font-size="23.5" text-anchor="middle" textLength="58.81" lengthAdjust="spacingAndGlyphs">0.005</text>
<text x="1661.2" y="2034.96" font-size="23.5" text-anchor="middle" textLength="58.81" lengthAdjust="spacingAndGlyphs">0.003</text>
<line x1="768.2" y1="2107.8" x2="776.8" y2="2107.8" stroke="#000" stroke-width="2.1"/>
<text x="258.45" y="2114.2" font-size="24.5" textLength="503.7" lengthAdjust="spacingAndGlyphs">BOYAULT LIVER CANCER SUBCLASS G3 UP</text>
<text x="1408.5" y="2107.15" font-size="23.5" text-anchor="middle" textLength="58.81" lengthAdjust="spacingAndGlyphs">1.612</text>
<text x="1534.8" y="2107.15" font-size="23.5" text-anchor="middle" textLength="58.81" lengthAdjust="spacingAndGlyphs">0.005</text>
<text x="1661.2" y="2107.15" font-size="23.5" text-anchor="middle" textLength="58.81" lengthAdjust="spacingAndGlyphs">0.003</text>
<line x1="768.2" y1="2179.83" x2="776.8" y2="2179.83" stroke="#000" stroke-width="2.1"/>
<text x="119.29" y="2186.23" font-size="24.5" textLength="647.07" lengthAdjust="spacingAndGlyphs">CHIANG LIVER CANCER SUBCLASS PROLIFERATION UP</text>
<text x="1408.5" y="2179.34" font-size="23.5" text-anchor="middle" textLength="58.81" lengthAdjust="spacingAndGlyphs">1.875</text>
<text x="1534.8" y="2179.34" font-size="23.5" text-anchor="middle" textLength="58.81" lengthAdjust="spacingAndGlyphs">0.005</text>
<text x="1661.2" y="2179.34" font-size="23.5" text-anchor="middle" textLength="58.81" lengthAdjust="spacingAndGlyphs">0.003</text>
<line x1="768.2" y1="2251.86" x2="776.8" y2="2251.86" stroke="#000" stroke-width="2.1"/>
<text x="301.35" y="2258.26" font-size="24.5" textLength="460.21" lengthAdjust="spacingAndGlyphs">HOSHIDA LIVER CANCER SUBCLASS S1</text>
<text x="1408.5" y="2251.53" font-size="23.5" text-anchor="middle" textLength="58.81" lengthAdjust="spacingAndGlyphs">1.495</text>
<text x="1534.8" y="2251.53" font-size="23.5" text-anchor="middle" textLength="58.81" lengthAdjust="spacingAndGlyphs">0.005</text>
<text x="1661.2" y="2251.53" font-size="23.5" text-anchor="middle" textLength="58.81" lengthAdjust="spacingAndGlyphs">0.003</text>
<line x1="768.2" y1="2323.89" x2="776.8" y2="2323.89" stroke="#000" stroke-width="2.1"/>
<text x="304.2" y="2330.29" font-size="24.5" textLength="457.96" lengthAdjust="spacingAndGlyphs">WOO LIVER CANCER RECURRENCE UP</text>
<text x="1408.5" y="2323.72" font-size="23.5" text-anchor="middle" textLength="58.81" lengthAdjust="spacingAndGlyphs">1.486</text>
<text x="1534.8" y="2323.72" font-size="23.5" text-anchor="middle" textLength="58.81" lengthAdjust="spacingAndGlyphs">0.005</text>
<text x="1661.2" y="2323.72" font-size="23.5" text-anchor="middle" textLength="58.81" lengthAdjust="spacingAndGlyphs">0.003</text>
<line x1="768.2" y1="2395.92" x2="776.8" y2="2395.92" stroke="#000" stroke-width="2.1"/>
<text x="273.77" y="2402.32" font-size="24.5" textLength="494.95" lengthAdjust="spacingAndGlyphs">KESHELAVA MULTIPLE DRUG RESISTANCE</text>
<text x="1408.5" y="2395.91" font-size="23.5" text-anchor="middle" textLength="58.81" lengthAdjust="spacingAndGlyphs">1.254</text>
<text x="1534.8" y="2395.91" font-size="23.5" text-anchor="middle" textLength="58.81" lengthAdjust="spacingAndGlyphs">0.009</text>
<text x="1661.2" y="2395.91" font-size="23.5" text-anchor="middle" textLength="58.81" lengthAdjust="spacingAndGlyphs">0.005</text>
<text x="1410" y="1712.5" font-size="23.5" text-anchor="middle" textLength="48.32" lengthAdjust="spacingAndGlyphs">NES</text>
<text x="1537" y="1712.5" font-size="23.5" text-anchor="middle" textLength="50.96" lengthAdjust="spacingAndGlyphs">p.adj</text>
<text x="1662" y="1712.5" font-size="23.5" text-anchor="middle" textLength="48.3" lengthAdjust="spacingAndGlyphs">FDR</text>
<line x1="806.6" y1="2418.8" x2="806.6" y2="2427.2" stroke="#000" stroke-width="2.1"/>
<text x="807.9" y="2446.6" font-size="24.5" text-anchor="middle" textLength="32.36" lengthAdjust="spacingAndGlyphs">0.0</text>
<line x1="917" y1="2418.8" x2="917" y2="2427.2" stroke="#000" stroke-width="2.1"/>
<text x="918.3" y="2446.6" font-size="24.5" text-anchor="middle" textLength="32.36" lengthAdjust="spacingAndGlyphs">0.5</text>
<line x1="1027.4" y1="2418.8" x2="1027.4" y2="2427.2" stroke="#000" stroke-width="2.1"/>
<text x="1028.7" y="2446.6" font-size="24.5" text-anchor="middle" textLength="32.36" lengthAdjust="spacingAndGlyphs">1.0</text>
<line x1="1137.8" y1="2418.8" x2="1137.8" y2="2427.2" stroke="#000" stroke-width="2.1"/>
<text x="1139.1" y="2446.6" font-size="24.5" text-anchor="middle" textLength="32.36" lengthAdjust="spacingAndGlyphs">1.5</text>
<line x1="1248.2" y1="2418.8" x2="1248.2" y2="2427.2" stroke="#000" stroke-width="2.1"/>
<text x="1249.5" y="2446.6" font-size="24.5" text-anchor="middle" textLength="32.36" lengthAdjust="spacingAndGlyphs">2.0</text>
<line x1="1358.6" y1="2418.8" x2="1358.6" y2="2427.2" stroke="#000" stroke-width="2.1"/>
<text x="1359.9" y="2446.6" font-size="24.5" text-anchor="middle" textLength="32.36" lengthAdjust="spacingAndGlyphs">2.5</text>
<text x="1014.24" y="2471.9" font-size="24.3" textLength="212.12" lengthAdjust="spacingAndGlyphs">High risk-vs-low risk</text>
</g>
</svg>
</body></html>
